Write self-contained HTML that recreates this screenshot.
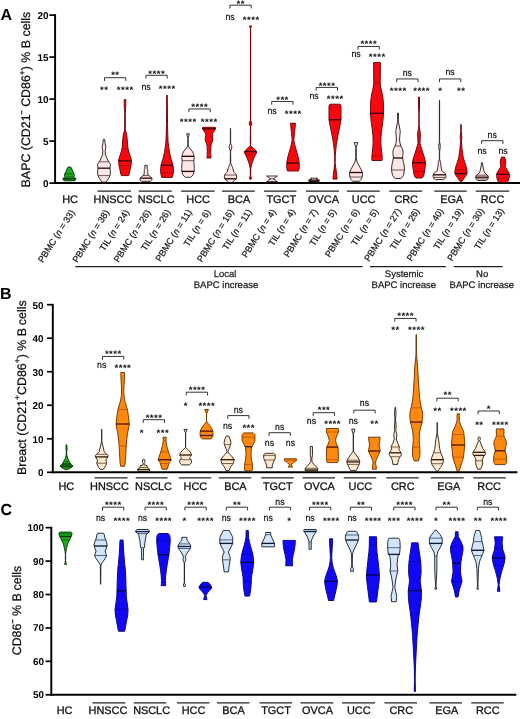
<!DOCTYPE html>
<html lang="en">
<head>
<meta charset="utf-8">
<title>Figure</title>
<style>
html,body{margin:0;padding:0;background:#ffffff;}
body{width:520px;height:719px;overflow:hidden;}
svg{display:block;font-family:"Liberation Sans",Arial,sans-serif;text-rendering:geometricPrecision;}
</style>
</head>
<body>
<svg width="520" height="719" viewBox="0 0 520 719">
<rect x="0" y="0" width="520" height="719" fill="#ffffff"/>
<text x="0.40" y="20.20" font-size="16.00" text-anchor="start" font-weight="bold" fill="#000" >A</text>
<text transform="translate(30.40 187.40) rotate(-90)" font-size="12.40" text-anchor="start" fill="#0a0a0a" stroke="#0a0a0a" stroke-width="0.22">BAPC (CD21<tspan font-size="7" font-weight="bold" dy="-6.1">−</tspan><tspan dy="6.1"> CD86</tspan><tspan font-size="8.5" dy="-5.7">+</tspan><tspan dy="5.7">) % B cells</tspan></text>
<path d="M70.73 167.00 L71.33 168.00 L72.93 171.50 L73.83 173.50 L74.33 175.00 L73.83 176.70 L74.43 177.50 L75.83 178.50 L75.62 179.80 L74.18 180.80 L64.62 180.80 L63.18 179.80 L62.98 178.50 L64.38 177.50 L64.98 176.70 L64.48 175.00 L64.98 173.50 L65.88 171.50 L67.48 168.00 L68.08 167.00Z" fill="#22aa22" stroke="#073d07" stroke-width="0.95" stroke-linejoin="round"/>
<line x1="64.70" y1="173.80" x2="74.10" y2="173.80" stroke="#0a5c0a" stroke-width="0.80"/>
<line x1="64.58" y1="177.00" x2="74.23" y2="177.00" stroke="#0a5c0a" stroke-width="0.80"/>
<line x1="62.83" y1="178.70" x2="75.97" y2="178.70" stroke="#053005" stroke-width="1.35"/>
<line x1="63.29" y1="180.00" x2="75.51" y2="180.00" stroke="#0a5c0a" stroke-width="0.80"/>
<path d="M104.78 139.30 L105.03 143.00 L105.88 147.00 L105.08 151.40 L105.42 154.00 L106.12 156.60 L107.28 159.00 L108.28 161.00 L109.53 162.80 L110.42 164.40 L110.22 166.50 L110.03 168.70 L110.28 171.00 L110.42 173.00 L109.92 175.50 L109.12 177.40 L107.53 180.00 L106.03 182.20 L101.97 182.20 L100.47 180.00 L98.88 177.40 L98.08 175.50 L97.58 173.00 L97.72 171.00 L97.97 168.70 L97.78 166.50 L97.58 164.40 L98.47 162.80 L99.72 161.00 L100.72 159.00 L101.88 156.60 L102.58 154.00 L102.92 151.40 L102.12 147.00 L102.97 143.00 L103.22 139.30Z" fill="#fce6e6" stroke="#332626" stroke-width="0.95" stroke-linejoin="round"/>
<line x1="98.99" y1="161.80" x2="109.01" y2="161.80" stroke="#4c3030" stroke-width="0.80"/>
<line x1="97.75" y1="168.20" x2="110.25" y2="168.20" stroke="#2a0e0e" stroke-width="1.35"/>
<line x1="97.94" y1="175.60" x2="110.06" y2="175.60" stroke="#4c3030" stroke-width="0.80"/>
<path d="M125.83 99.50 L125.72 107.30 L125.28 112.50 L125.33 129.80 L126.78 135.00 L127.33 141.00 L127.72 147.00 L128.53 151.00 L129.47 154.00 L130.53 157.00 L131.43 160.00 L131.32 162.50 L131.03 165.30 L130.03 170.00 L129.03 174.50 L128.68 175.60 L121.33 175.60 L120.97 174.50 L119.97 170.00 L118.97 165.30 L118.67 162.50 L118.58 160.00 L119.47 157.00 L120.53 154.00 L121.47 151.00 L122.28 147.00 L122.67 141.00 L123.22 135.00 L124.67 129.80 L124.72 112.50 L124.28 107.30 L124.17 99.50Z" fill="#f8080e" stroke="#6a0408" stroke-width="0.95" stroke-linejoin="round"/>
<line x1="121.74" y1="148.80" x2="128.26" y2="148.80" stroke="#a80408" stroke-width="0.80"/>
<line x1="118.44" y1="161.00" x2="131.56" y2="161.00" stroke="#3e0000" stroke-width="1.35"/>
<line x1="118.86" y1="165.60" x2="131.14" y2="165.60" stroke="#a80408" stroke-width="0.80"/>
<path d="M147.18 165.30 L147.18 168.70 L147.68 169.50 L147.68 171.30 L148.03 175.10 L150.28 176.50 L151.28 177.60 L152.03 178.60 L151.93 180.00 L150.53 181.30 L141.47 181.30 L140.07 180.00 L139.97 178.60 L140.72 177.60 L141.72 176.50 L143.97 175.10 L144.32 171.30 L144.32 169.50 L144.82 168.70 L144.82 165.30Z" fill="#fce6e6" stroke="#332626" stroke-width="0.95" stroke-linejoin="round"/>
<line x1="143.00" y1="175.60" x2="149.00" y2="175.60" stroke="#4c3030" stroke-width="0.80"/>
<line x1="140.10" y1="178.20" x2="151.90" y2="178.20" stroke="#2a0e0e" stroke-width="1.35"/>
<path d="M167.28 95.20 L167.53 124.60 L167.78 134.00 L168.07 141.90 L168.72 147.00 L169.53 152.30 L170.32 156.00 L171.18 159.20 L172.03 162.00 L172.93 165.30 L173.28 168.00 L173.43 171.30 L173.03 174.50 L172.22 177.40 L161.78 177.40 L160.97 174.50 L160.57 171.30 L160.72 168.00 L161.07 165.30 L161.97 162.00 L162.82 159.20 L163.68 156.00 L164.47 152.30 L165.28 147.00 L165.93 141.90 L166.22 134.00 L166.47 124.60 L166.72 95.20Z" fill="#f8080e" stroke="#6a0408" stroke-width="0.95" stroke-linejoin="round"/>
<line x1="160.90" y1="165.30" x2="173.10" y2="165.30" stroke="#3e0000" stroke-width="1.35"/>
<line x1="160.58" y1="172.70" x2="173.42" y2="172.70" stroke="#a80408" stroke-width="0.80"/>
<path d="M189.43 133.80 L188.72 136.00 L188.12 138.20 L188.22 146.00 L189.53 148.00 L191.28 150.00 L192.72 152.00 L193.68 154.50 L194.18 157.20 L193.82 161.50 L194.12 165.00 L194.32 168.40 L194.03 172.00 L193.28 174.50 L192.03 176.30 L190.53 177.30 L185.47 177.30 L183.97 176.30 L182.72 174.50 L181.97 172.00 L181.68 168.40 L181.88 165.00 L182.18 161.50 L181.82 157.20 L182.32 154.50 L183.28 152.00 L184.72 150.00 L186.47 148.00 L187.78 146.00 L187.88 138.20 L187.28 136.00 L186.57 133.80Z" fill="#fce6e6" stroke="#332626" stroke-width="0.95" stroke-linejoin="round"/>
<line x1="181.82" y1="156.30" x2="194.18" y2="156.30" stroke="#2a0e0e" stroke-width="1.35"/>
<line x1="181.93" y1="160.70" x2="194.07" y2="160.70" stroke="#4c3030" stroke-width="0.80"/>
<line x1="181.75" y1="171.40" x2="194.25" y2="171.40" stroke="#2a0e0e" stroke-width="1.35"/>
<path d="M215.32 127.30 L215.62 128.30 L215.12 129.50 L214.03 131.00 L212.82 133.00 L212.18 134.70 L212.53 137.00 L212.82 139.00 L212.53 141.00 L211.53 143.50 L210.88 146.00 L210.72 152.00 L210.82 156.00 L211.12 158.00 L206.88 158.00 L207.18 156.00 L207.28 152.00 L207.12 146.00 L206.47 143.50 L205.47 141.00 L205.18 139.00 L205.47 137.00 L205.82 134.70 L205.18 133.00 L203.97 131.00 L202.88 129.50 L202.38 128.30 L202.68 127.30Z" fill="#f8080e" stroke="#6a0408" stroke-width="0.95" stroke-linejoin="round"/>
<line x1="202.41" y1="128.80" x2="215.59" y2="128.80" stroke="#3e0000" stroke-width="1.35"/>
<path d="M230.62 128.30 L230.62 143.40 L231.43 145.20 L231.93 147.00 L231.43 149.00 L230.62 151.00 L230.72 163.30 L231.62 165.50 L232.62 167.60 L233.28 170.00 L233.78 172.00 L235.03 173.30 L236.28 174.50 L236.68 177.00 L236.28 178.80 L234.28 180.50 L232.03 182.60 L228.97 182.60 L226.72 180.50 L224.72 178.80 L224.32 177.00 L224.72 174.50 L225.97 173.30 L227.22 172.00 L227.72 170.00 L228.38 167.60 L229.38 165.50 L230.28 163.30 L230.38 151.00 L229.57 149.00 L229.07 147.00 L229.57 145.20 L230.38 143.40 L230.38 128.30Z" fill="#fce6e6" stroke="#332626" stroke-width="0.95" stroke-linejoin="round"/>
<line x1="224.47" y1="175.00" x2="236.53" y2="175.00" stroke="#4c3030" stroke-width="0.80"/>
<line x1="224.55" y1="178.80" x2="236.45" y2="178.80" stroke="#2a0e0e" stroke-width="1.35"/>
<path d="M251.53 26.00 L250.57 28.50 L250.57 120.50 L251.32 122.00 L251.78 123.50 L251.32 125.00 L250.57 126.50 L250.68 146.00 L252.03 147.00 L253.72 148.50 L255.28 150.00 L256.68 152.00 L256.32 153.30 L255.53 154.60 L254.32 157.00 L253.22 159.80 L252.28 162.50 L251.53 165.00 L250.78 168.40 L250.62 175.40 L251.03 177.00 L251.53 178.80 L251.03 179.20 L249.97 179.20 L249.47 178.80 L249.97 177.00 L250.38 175.40 L250.22 168.40 L249.47 165.00 L248.72 162.50 L247.78 159.80 L246.68 157.00 L245.47 154.60 L244.68 153.30 L244.32 152.00 L245.72 150.00 L247.28 148.50 L248.97 147.00 L250.32 146.00 L250.43 126.50 L249.68 125.00 L249.22 123.50 L249.68 122.00 L250.43 120.50 L250.43 28.50 L249.47 26.00Z" fill="#f8080e" stroke="#6a0408" stroke-width="0.95" stroke-linejoin="round"/>
<line x1="244.43" y1="151.60" x2="256.57" y2="151.60" stroke="#3e0000" stroke-width="1.35"/>
<line x1="245.30" y1="154.60" x2="255.70" y2="154.60" stroke="#a80408" stroke-width="0.80"/>
<path d="M277.43 176.00 L275.77 177.30 L273.52 178.80 L275.77 180.30 L277.52 181.70 L266.48 181.70 L268.23 180.30 L270.48 178.80 L268.23 177.30 L266.57 176.00Z" fill="#fce6e6" stroke="#332626" stroke-width="0.95" stroke-linejoin="round"/>
<line x1="270.30" y1="178.80" x2="273.70" y2="178.80" stroke="#4c3030" stroke-width="0.80"/>
<path d="M295.48 123.20 L294.68 131.50 L294.18 136.00 L293.82 140.20 L294.73 144.50 L295.82 148.80 L297.02 153.00 L298.02 156.60 L298.62 159.00 L299.07 161.80 L299.27 166.10 L299.02 169.50 L298.52 171.00 L287.48 171.00 L286.98 169.50 L286.73 166.10 L286.93 161.80 L287.38 159.00 L287.98 156.60 L288.98 153.00 L290.18 148.80 L291.27 144.50 L292.18 140.20 L291.82 136.00 L291.32 131.50 L290.52 123.20Z" fill="#f8080e" stroke="#6a0408" stroke-width="0.95" stroke-linejoin="round"/>
<line x1="286.69" y1="163.00" x2="299.31" y2="163.00" stroke="#3e0000" stroke-width="1.35"/>
<path d="M317.52 178.20 L316.02 179.20 L319.12 180.00 L319.12 181.60 L318.02 182.60 L309.98 182.60 L308.88 181.60 L308.88 180.00 L311.98 179.20 L310.48 178.20Z" fill="#fce6e6" stroke="#332626" stroke-width="0.95" stroke-linejoin="round"/>
<line x1="308.70" y1="180.20" x2="319.30" y2="180.20" stroke="#2a0e0e" stroke-width="1.35"/>
<line x1="308.81" y1="181.70" x2="319.19" y2="181.70" stroke="#2a0e0e" stroke-width="1.35"/>
<path d="M340.12 104.20 L340.82 105.20 L341.02 107.30 L341.02 119.40 L340.12 124.60 L339.02 130.00 L337.98 135.00 L337.12 140.00 L336.27 145.40 L335.73 150.50 L335.27 155.70 L335.12 162.70 L335.68 167.00 L336.27 171.30 L336.73 175.50 L337.02 179.10 L332.98 179.10 L333.27 175.50 L333.73 171.30 L334.32 167.00 L334.88 162.70 L334.73 155.70 L334.27 150.50 L333.73 145.40 L332.88 140.00 L332.02 135.00 L330.98 130.00 L329.88 124.60 L328.98 119.40 L328.98 107.30 L329.18 105.20 L329.88 104.20Z" fill="#f8080e" stroke="#6a0408" stroke-width="0.95" stroke-linejoin="round"/>
<line x1="328.80" y1="107.30" x2="341.20" y2="107.30" stroke="#a80408" stroke-width="0.80"/>
<line x1="328.87" y1="119.80" x2="341.13" y2="119.80" stroke="#3e0000" stroke-width="1.35"/>
<path d="M357.88 142.60 L357.02 145.00 L356.27 147.50 L356.23 158.00 L356.82 161.00 L358.02 164.00 L359.77 167.00 L361.43 170.00 L362.32 172.50 L362.32 176.00 L361.52 178.50 L360.52 180.20 L359.27 181.30 L352.73 181.30 L351.48 180.20 L350.48 178.50 L349.68 176.00 L349.68 172.50 L350.57 170.00 L352.23 167.00 L353.98 164.00 L355.18 161.00 L355.77 158.00 L355.73 147.50 L354.98 145.00 L354.12 142.60Z" fill="#fce6e6" stroke="#332626" stroke-width="0.95" stroke-linejoin="round"/>
<line x1="349.50" y1="172.50" x2="362.50" y2="172.50" stroke="#2a0e0e" stroke-width="1.35"/>
<line x1="349.82" y1="177.00" x2="362.18" y2="177.00" stroke="#4c3030" stroke-width="0.80"/>
<path d="M380.43 62.50 L380.32 75.00 L380.18 82.90 L380.93 88.00 L382.12 93.30 L382.82 97.50 L383.38 101.90 L383.52 107.00 L383.52 113.10 L383.18 118.00 L382.68 122.70 L381.93 128.00 L381.27 133.00 L380.98 138.00 L380.88 143.40 L381.32 149.00 L381.93 154.00 L382.23 157.50 L382.02 160.50 L371.98 160.50 L371.77 157.50 L372.07 154.00 L372.68 149.00 L373.12 143.40 L373.02 138.00 L372.73 133.00 L372.07 128.00 L371.32 122.70 L370.82 118.00 L370.48 113.10 L370.48 107.00 L370.62 101.90 L371.18 97.50 L371.88 93.30 L373.07 88.00 L373.82 82.90 L373.68 75.00 L373.57 62.50Z" fill="#f8080e" stroke="#6a0408" stroke-width="0.95" stroke-linejoin="round"/>
<line x1="373.65" y1="82.90" x2="380.35" y2="82.90" stroke="#a80408" stroke-width="0.80"/>
<line x1="370.31" y1="113.30" x2="383.69" y2="113.30" stroke="#3e0000" stroke-width="1.35"/>
<line x1="371.73" y1="156.00" x2="382.27" y2="156.00" stroke="#a80408" stroke-width="0.80"/>
<path d="M398.52 113.10 L398.27 121.00 L399.23 126.00 L400.27 131.30 L399.82 136.00 L399.52 140.00 L400.02 143.00 L400.73 146.00 L402.27 148.50 L403.02 151.00 L403.02 154.00 L402.62 157.00 L402.93 160.00 L403.93 164.00 L404.43 168.00 L404.23 172.00 L403.32 175.50 L402.02 177.50 L400.77 178.50 L395.23 178.50 L393.98 177.50 L392.68 175.50 L391.77 172.00 L391.57 168.00 L392.07 164.00 L393.07 160.00 L393.38 157.00 L392.98 154.00 L392.98 151.00 L393.73 148.50 L395.27 146.00 L395.98 143.00 L396.48 140.00 L396.18 136.00 L395.73 131.30 L396.77 126.00 L397.73 121.00 L397.48 113.10Z" fill="#fce6e6" stroke="#332626" stroke-width="0.95" stroke-linejoin="round"/>
<line x1="395.10" y1="146.00" x2="400.90" y2="146.00" stroke="#4c3030" stroke-width="0.80"/>
<line x1="393.10" y1="158.00" x2="402.90" y2="158.00" stroke="#2a0e0e" stroke-width="1.35"/>
<line x1="391.50" y1="170.00" x2="404.50" y2="170.00" stroke="#4c3030" stroke-width="0.80"/>
<path d="M419.52 97.00 L419.52 108.80 L419.12 112.00 L419.12 126.00 L419.93 130.50 L420.43 134.80 L420.12 139.00 L420.02 143.40 L421.02 147.00 L422.23 151.00 L423.52 155.00 L424.93 159.00 L425.52 163.00 L425.02 168.00 L424.27 173.00 L423.52 176.00 L422.02 178.00 L415.98 178.00 L414.48 176.00 L413.73 173.00 L412.98 168.00 L412.48 163.00 L413.07 159.00 L414.48 155.00 L415.77 151.00 L416.98 147.00 L417.98 143.40 L417.88 139.00 L417.57 134.80 L418.07 130.50 L418.88 126.00 L418.88 112.00 L418.48 108.80 L418.48 97.00Z" fill="#f8080e" stroke="#6a0408" stroke-width="0.95" stroke-linejoin="round"/>
<line x1="415.28" y1="152.00" x2="422.72" y2="152.00" stroke="#a80408" stroke-width="0.80"/>
<line x1="412.35" y1="162.70" x2="425.65" y2="162.70" stroke="#3e0000" stroke-width="1.35"/>
<line x1="413.30" y1="171.30" x2="424.70" y2="171.30" stroke="#a80408" stroke-width="0.80"/>
<path d="M439.62 100.40 L439.62 141.90 L440.02 144.00 L440.32 146.20 L440.02 148.80 L439.62 151.40 L439.68 159.20 L440.62 162.70 L441.12 167.00 L441.62 170.00 L442.27 171.30 L443.77 172.30 L445.27 173.30 L445.82 174.50 L445.93 176.50 L445.27 178.30 L443.52 179.60 L435.48 179.60 L433.73 178.30 L433.07 176.50 L433.18 174.50 L433.73 173.30 L435.23 172.30 L436.73 171.30 L437.38 170.00 L437.88 167.00 L438.38 162.70 L439.32 159.20 L439.38 151.40 L438.98 148.80 L438.68 146.20 L438.98 144.00 L439.38 141.90 L439.38 100.40Z" fill="#fce6e6" stroke="#332626" stroke-width="0.95" stroke-linejoin="round"/>
<line x1="432.99" y1="174.80" x2="446.01" y2="174.80" stroke="#2a0e0e" stroke-width="1.35"/>
<line x1="433.23" y1="177.40" x2="445.77" y2="177.40" stroke="#4c3030" stroke-width="0.80"/>
<path d="M461.27 124.60 L461.27 131.50 L461.82 136.70 L461.52 141.90 L462.02 148.80 L462.62 153.00 L463.27 157.50 L464.27 161.00 L465.48 164.40 L466.23 167.00 L466.82 169.60 L467.18 173.00 L466.12 175.20 L464.68 177.40 L463.23 179.50 L462.02 181.30 L459.98 181.30 L458.77 179.50 L457.32 177.40 L455.88 175.20 L454.82 173.00 L455.18 169.60 L455.77 167.00 L456.52 164.40 L457.73 161.00 L458.73 157.50 L459.38 153.00 L459.98 148.80 L460.48 141.90 L460.18 136.70 L460.73 131.50 L460.73 124.60Z" fill="#f8080e" stroke="#6a0408" stroke-width="0.95" stroke-linejoin="round"/>
<line x1="454.96" y1="170.00" x2="467.04" y2="170.00" stroke="#a80408" stroke-width="0.80"/>
<line x1="454.94" y1="173.60" x2="467.06" y2="173.60" stroke="#3e0000" stroke-width="1.35"/>
<path d="M482.52 162.70 L482.82 166.00 L483.43 169.00 L484.12 171.50 L484.77 173.00 L486.02 174.00 L487.43 175.00 L488.12 176.20 L488.27 177.90 L487.52 179.40 L486.02 180.50 L477.98 180.50 L476.48 179.40 L475.73 177.90 L475.88 176.20 L476.57 175.00 L477.98 174.00 L479.23 173.00 L479.88 171.50 L480.57 169.00 L481.18 166.00 L481.48 162.70Z" fill="#fce6e6" stroke="#332626" stroke-width="0.95" stroke-linejoin="round"/>
<line x1="476.28" y1="175.20" x2="487.72" y2="175.20" stroke="#4c3030" stroke-width="0.80"/>
<line x1="475.61" y1="177.20" x2="488.39" y2="177.20" stroke="#2a0e0e" stroke-width="1.35"/>
<line x1="476.05" y1="178.90" x2="487.95" y2="178.90" stroke="#4c3030" stroke-width="0.80"/>
<path d="M504.43 157.10 L505.27 159.20 L505.82 162.70 L505.12 166.10 L505.93 168.00 L507.02 169.60 L508.12 171.30 L509.02 173.00 L509.43 176.50 L508.52 180.00 L507.77 181.50 L506.52 182.60 L499.48 182.60 L498.23 181.50 L497.48 180.00 L496.57 176.50 L496.98 173.00 L497.88 171.30 L498.98 169.60 L500.07 168.00 L500.88 166.10 L500.18 162.70 L500.73 159.20 L501.57 157.10Z" fill="#f8080e" stroke="#6a0408" stroke-width="0.95" stroke-linejoin="round"/>
<line x1="496.65" y1="174.30" x2="509.35" y2="174.30" stroke="#3e0000" stroke-width="1.35"/>
<line x1="496.84" y1="178.20" x2="509.16" y2="178.20" stroke="#a80408" stroke-width="0.80"/>
<line x1="55.10" y1="14.25" x2="55.10" y2="183.90" stroke="#000" stroke-width="1.95"/>
<line x1="54.10" y1="182.95" x2="520.00" y2="182.95" stroke="#000" stroke-width="1.90"/>
<line x1="49.35" y1="15.10" x2="55.10" y2="15.10" stroke="#000" stroke-width="1.70"/>
<text transform="translate(48.50 18.95) scale(0.5)" font-size="19.8" text-anchor="end" font-weight="bold" fill="#000">20</text>
<line x1="49.35" y1="57.10" x2="55.10" y2="57.10" stroke="#000" stroke-width="1.70"/>
<text transform="translate(48.50 60.95) scale(0.5)" font-size="19.8" text-anchor="end" font-weight="bold" fill="#000">15</text>
<line x1="49.35" y1="99.10" x2="55.10" y2="99.10" stroke="#000" stroke-width="1.70"/>
<text transform="translate(48.50 102.95) scale(0.5)" font-size="19.8" text-anchor="end" font-weight="bold" fill="#000">10</text>
<line x1="49.35" y1="141.10" x2="55.10" y2="141.10" stroke="#000" stroke-width="1.70"/>
<text transform="translate(48.50 144.95) scale(0.5)" font-size="19.8" text-anchor="end" font-weight="bold" fill="#000">5</text>
<line x1="49.35" y1="183.10" x2="55.10" y2="183.10" stroke="#000" stroke-width="1.70"/>
<text transform="translate(48.50 186.95) scale(0.5)" font-size="19.8" text-anchor="end" font-weight="bold" fill="#000">0</text>
<text x="70.00" y="202.70" font-size="10.90" text-anchor="middle" font-weight="normal" fill="#111" stroke="#111" stroke-width="0.3">HC</text>
<line x1="97.50" y1="191.10" x2="131.00" y2="191.10" stroke="#222" stroke-width="1.30"/>
<text x="112.90" y="202.70" font-size="10.90" text-anchor="middle" font-weight="normal" fill="#111" stroke="#111" stroke-width="0.3">HNSCC</text>
<line x1="138.75" y1="191.10" x2="171.75" y2="191.10" stroke="#222" stroke-width="1.30"/>
<text x="156.10" y="202.70" font-size="10.90" text-anchor="middle" font-weight="normal" fill="#111" stroke="#111" stroke-width="0.3">NSCLC</text>
<line x1="181.20" y1="191.10" x2="214.60" y2="191.10" stroke="#222" stroke-width="1.30"/>
<text x="198.10" y="202.70" font-size="10.90" text-anchor="middle" font-weight="normal" fill="#111" stroke="#111" stroke-width="0.3">HCC</text>
<line x1="221.90" y1="191.10" x2="254.80" y2="191.10" stroke="#222" stroke-width="1.30"/>
<text x="239.00" y="202.70" font-size="10.90" text-anchor="middle" font-weight="normal" fill="#111" stroke="#111" stroke-width="0.3">BCA</text>
<line x1="264.00" y1="191.10" x2="296.50" y2="191.10" stroke="#222" stroke-width="1.30"/>
<text x="281.25" y="202.70" font-size="10.90" text-anchor="middle" font-weight="normal" fill="#111" stroke="#111" stroke-width="0.3">TGCT</text>
<line x1="306.00" y1="191.10" x2="339.00" y2="191.10" stroke="#222" stroke-width="1.30"/>
<text x="323.50" y="202.70" font-size="10.90" text-anchor="middle" font-weight="normal" fill="#111" stroke="#111" stroke-width="0.3">OVCA</text>
<line x1="346.90" y1="191.10" x2="379.80" y2="191.10" stroke="#222" stroke-width="1.30"/>
<text x="363.60" y="202.70" font-size="10.90" text-anchor="middle" font-weight="normal" fill="#111" stroke="#111" stroke-width="0.3">UCC</text>
<line x1="389.30" y1="191.10" x2="422.20" y2="191.10" stroke="#222" stroke-width="1.30"/>
<text x="406.20" y="202.70" font-size="10.90" text-anchor="middle" font-weight="normal" fill="#111" stroke="#111" stroke-width="0.3">CRC</text>
<line x1="434.30" y1="191.10" x2="466.70" y2="191.10" stroke="#222" stroke-width="1.30"/>
<text x="451.80" y="202.70" font-size="10.90" text-anchor="middle" font-weight="normal" fill="#111" stroke="#111" stroke-width="0.3">EGA</text>
<line x1="475.80" y1="191.10" x2="509.20" y2="191.10" stroke="#222" stroke-width="1.30"/>
<text x="492.50" y="202.70" font-size="10.90" text-anchor="middle" font-weight="normal" fill="#111" stroke="#111" stroke-width="0.3">RCC</text>
<text x="104.22" y="92.90" font-size="9.60" text-anchor="middle" font-weight="bold" fill="#111" letter-spacing="0.45">**</text>
<text x="125.22" y="92.90" font-size="9.60" text-anchor="middle" font-weight="bold" fill="#111" letter-spacing="0.45">****</text>
<path d="M104.50 80.90 V77.70 H125.80 V80.90" fill="none" stroke="#333" stroke-width="1"/>
<text x="115.32" y="78.10" font-size="9.60" text-anchor="middle" font-weight="bold" fill="#111" letter-spacing="0.45">**</text>
<text x="146.00" y="89.60" font-size="9.60" text-anchor="middle" font-weight="normal" fill="#111" textLength="9.2" lengthAdjust="spacingAndGlyphs" stroke="#111" stroke-width="0.2">ns</text>
<text x="167.22" y="92.30" font-size="9.60" text-anchor="middle" font-weight="bold" fill="#111" letter-spacing="0.45">****</text>
<path d="M145.90 78.50 V75.30 H167.20 V78.50" fill="none" stroke="#333" stroke-width="1"/>
<text x="156.72" y="76.60" font-size="9.60" text-anchor="middle" font-weight="bold" fill="#111" letter-spacing="0.45">****</text>
<text x="188.22" y="124.90" font-size="9.60" text-anchor="middle" font-weight="bold" fill="#111" letter-spacing="0.45">****</text>
<text x="209.22" y="124.90" font-size="9.60" text-anchor="middle" font-weight="bold" fill="#111" letter-spacing="0.45">****</text>
<path d="M188.90 112.15 V108.95 H210.20 V112.15" fill="none" stroke="#333" stroke-width="1"/>
<text x="199.72" y="110.35" font-size="9.60" text-anchor="middle" font-weight="bold" fill="#111" letter-spacing="0.45">****</text>
<text x="230.00" y="20.20" font-size="9.60" text-anchor="middle" font-weight="normal" fill="#111" textLength="9.2" lengthAdjust="spacingAndGlyphs" stroke="#111" stroke-width="0.2">ns</text>
<text x="251.22" y="22.90" font-size="9.60" text-anchor="middle" font-weight="bold" fill="#111" letter-spacing="0.45">****</text>
<path d="M229.90 8.40 V5.20 H251.20 V8.40" fill="none" stroke="#333" stroke-width="1"/>
<text x="240.72" y="6.60" font-size="9.60" text-anchor="middle" font-weight="bold" fill="#111" letter-spacing="0.45">**</text>
<text x="272.00" y="114.20" font-size="9.60" text-anchor="middle" font-weight="normal" fill="#111" textLength="9.2" lengthAdjust="spacingAndGlyphs" stroke="#111" stroke-width="0.2">ns</text>
<text x="293.22" y="116.90" font-size="9.60" text-anchor="middle" font-weight="bold" fill="#111" letter-spacing="0.45">****</text>
<path d="M271.70 104.65 V101.45 H293.00 V104.65" fill="none" stroke="#333" stroke-width="1"/>
<text x="282.52" y="102.60" font-size="9.60" text-anchor="middle" font-weight="bold" fill="#111" letter-spacing="0.45">***</text>
<text x="314.00" y="99.10" font-size="9.60" text-anchor="middle" font-weight="normal" fill="#111" textLength="9.2" lengthAdjust="spacingAndGlyphs" stroke="#111" stroke-width="0.2">ns</text>
<text x="335.22" y="101.80" font-size="9.60" text-anchor="middle" font-weight="bold" fill="#111" letter-spacing="0.45">****</text>
<path d="M316.20 90.60 V87.40 H337.50 V90.60" fill="none" stroke="#333" stroke-width="1"/>
<text x="327.02" y="88.50" font-size="9.60" text-anchor="middle" font-weight="bold" fill="#111" letter-spacing="0.45">****</text>
<text x="356.00" y="57.40" font-size="9.60" text-anchor="middle" font-weight="normal" fill="#111" textLength="9.2" lengthAdjust="spacingAndGlyphs" stroke="#111" stroke-width="0.2">ns</text>
<text x="377.22" y="60.10" font-size="9.60" text-anchor="middle" font-weight="bold" fill="#111" letter-spacing="0.45">****</text>
<path d="M358.00 49.65 V46.45 H379.30 V49.65" fill="none" stroke="#333" stroke-width="1"/>
<text x="368.82" y="47.10" font-size="9.60" text-anchor="middle" font-weight="bold" fill="#111" letter-spacing="0.45">****</text>
<text x="398.22" y="93.65" font-size="9.60" text-anchor="middle" font-weight="bold" fill="#111" letter-spacing="0.45">****</text>
<text x="421.62" y="93.65" font-size="9.60" text-anchor="middle" font-weight="bold" fill="#111" letter-spacing="0.45">****</text>
<path d="M396.70 82.15 V78.95 H418.00 V82.15" fill="none" stroke="#333" stroke-width="1"/>
<text x="407.30" y="76.25" font-size="9.60" text-anchor="middle" font-weight="normal" fill="#111" textLength="9.2" lengthAdjust="spacingAndGlyphs" stroke="#111" stroke-width="0.2">ns</text>
<text x="440.22" y="93.65" font-size="9.60" text-anchor="middle" font-weight="bold" fill="#111" letter-spacing="0.45">*</text>
<text x="461.22" y="93.65" font-size="9.60" text-anchor="middle" font-weight="bold" fill="#111" letter-spacing="0.45">**</text>
<path d="M439.50 82.15 V78.95 H460.80 V82.15" fill="none" stroke="#333" stroke-width="1"/>
<text x="450.10" y="75.00" font-size="9.60" text-anchor="middle" font-weight="normal" fill="#111" textLength="9.2" lengthAdjust="spacingAndGlyphs" stroke="#111" stroke-width="0.2">ns</text>
<text x="482.00" y="154.45" font-size="9.60" text-anchor="middle" font-weight="normal" fill="#111" textLength="9.2" lengthAdjust="spacingAndGlyphs" stroke="#111" stroke-width="0.2">ns</text>
<text x="503.00" y="154.45" font-size="9.60" text-anchor="middle" font-weight="normal" fill="#111" textLength="9.2" lengthAdjust="spacingAndGlyphs" stroke="#111" stroke-width="0.2">ns</text>
<path d="M481.60 143.90 V140.70 H502.90 V143.90" fill="none" stroke="#333" stroke-width="1"/>
<text x="492.20" y="138.00" font-size="9.60" text-anchor="middle" font-weight="normal" fill="#111" textLength="9.2" lengthAdjust="spacingAndGlyphs" stroke="#111" stroke-width="0.2">ns</text>
<text x="0.00" y="299.20" font-size="16.00" text-anchor="start" font-weight="bold" fill="#000" >B</text>
<text transform="translate(26.00 475.00) rotate(-90)" font-size="12.40" text-anchor="start" fill="#0a0a0a" stroke="#0a0a0a" stroke-width="0.22">Breact (CD21<tspan font-size="8.5" dy="-5.7">+</tspan><tspan dy="5.7">CD86</tspan><tspan font-size="8.5" dy="-5.7">+</tspan><tspan dy="5.7">) % B</tspan><tspan dx="-0.6"> cells</tspan></text>
<path d="M66.67 444.60 L66.97 446.00 L66.97 450.00 L66.67 452.00 L66.78 455.00 L67.53 458.00 L69.12 461.20 L70.62 463.80 L72.78 466.20 L71.28 467.50 L69.53 468.60 L67.78 469.60 L65.22 469.60 L63.48 468.60 L61.73 467.50 L60.23 466.20 L62.38 463.80 L63.88 461.20 L65.47 458.00 L66.22 455.00 L66.33 452.00 L66.03 450.00 L66.03 446.00 L66.33 444.60Z" fill="#22aa22" stroke="#073d07" stroke-width="0.95" stroke-linejoin="round"/>
<line x1="63.53" y1="461.50" x2="69.47" y2="461.50" stroke="#0a5c0a" stroke-width="0.80"/>
<line x1="62.02" y1="464.00" x2="70.98" y2="464.00" stroke="#053005" stroke-width="1.35"/>
<line x1="60.05" y1="466.20" x2="72.95" y2="466.20" stroke="#053005" stroke-width="1.35"/>
<line x1="62.03" y1="467.80" x2="70.97" y2="467.80" stroke="#0a5c0a" stroke-width="0.80"/>
<path d="M101.73 429.20 L101.73 440.70 L102.62 444.90 L103.67 449.00 L104.08 451.70 L105.23 452.80 L106.42 453.80 L108.28 455.80 L107.33 457.90 L105.92 460.00 L106.23 461.50 L106.58 463.20 L105.67 465.80 L104.48 467.80 L103.23 469.40 L100.17 469.40 L98.92 467.80 L97.73 465.80 L96.83 463.20 L97.17 461.50 L97.48 460.00 L96.08 457.90 L95.12 455.80 L96.98 453.80 L98.17 452.80 L99.33 451.70 L99.73 449.00 L100.78 444.90 L101.67 440.70 L101.67 429.20Z" fill="#fde9cf" stroke="#30261c" stroke-width="0.95" stroke-linejoin="round"/>
<line x1="96.34" y1="454.30" x2="107.06" y2="454.30" stroke="#5a4428" stroke-width="0.80"/>
<line x1="95.45" y1="456.90" x2="107.95" y2="456.90" stroke="#30200a" stroke-width="1.35"/>
<line x1="96.65" y1="463.20" x2="106.75" y2="463.20" stroke="#5a4428" stroke-width="0.80"/>
<path d="M124.55 372.50 L124.30 380.00 L123.84 388.00 L123.84 394.00 L124.30 398.00 L125.00 401.50 L126.00 405.00 L127.39 409.40 L128.09 414.00 L128.80 419.00 L129.25 424.00 L128.40 429.00 L127.39 434.40 L126.70 440.00 L126.20 445.90 L125.89 452.00 L125.59 458.50 L125.20 463.00 L124.55 466.30 L120.80 466.30 L120.14 463.00 L119.75 458.50 L119.45 452.00 L119.14 445.90 L118.64 440.00 L117.95 434.40 L116.95 429.00 L116.09 424.00 L116.55 419.00 L117.25 414.00 L117.95 409.40 L119.34 405.00 L120.34 401.50 L121.05 398.00 L121.50 394.00 L121.50 388.00 L121.05 380.00 L120.80 372.50Z" fill="#ff890c" stroke="#6e3600" stroke-width="0.95" stroke-linejoin="round"/>
<line x1="117.77" y1="409.40" x2="127.57" y2="409.40" stroke="#b85000" stroke-width="0.80"/>
<line x1="115.92" y1="424.00" x2="129.42" y2="424.00" stroke="#541600" stroke-width="1.35"/>
<line x1="118.97" y1="445.90" x2="126.37" y2="445.90" stroke="#b85000" stroke-width="0.80"/>
<path d="M144.16 459.20 L144.81 460.00 L144.91 461.20 L144.81 462.40 L144.16 463.10 L144.16 464.90 L147.06 465.70 L147.16 467.50 L148.41 468.20 L149.46 468.90 L149.46 470.90 L148.16 471.60 L139.11 471.60 L137.81 470.90 L137.81 468.90 L138.86 468.20 L140.11 467.50 L140.21 465.70 L143.11 464.90 L143.11 463.10 L142.46 462.40 L142.36 461.20 L142.46 460.00 L143.11 459.20Z" fill="#fde9cf" stroke="#30261c" stroke-width="0.95" stroke-linejoin="round"/>
<line x1="139.94" y1="467.50" x2="147.34" y2="467.50" stroke="#5a4428" stroke-width="0.80"/>
<line x1="137.64" y1="469.60" x2="149.64" y2="469.60" stroke="#30200a" stroke-width="1.35"/>
<path d="M166.24 437.20 L165.84 440.10 L166.24 443.00 L166.74 445.80 L167.64 449.00 L168.49 451.90 L169.39 454.50 L170.19 457.10 L171.04 459.70 L170.74 461.00 L169.39 461.80 L168.99 463.10 L168.14 466.00 L167.64 468.00 L167.14 469.20 L162.09 469.20 L161.59 468.00 L161.09 466.00 L160.24 463.10 L159.84 461.80 L158.49 461.00 L158.19 459.70 L159.04 457.10 L159.84 454.50 L160.74 451.90 L161.59 449.00 L162.49 445.80 L162.99 443.00 L163.39 440.10 L162.99 437.20Z" fill="#ff890c" stroke="#6e3600" stroke-width="0.95" stroke-linejoin="round"/>
<line x1="163.15" y1="440.50" x2="166.07" y2="440.50" stroke="#b85000" stroke-width="0.80"/>
<line x1="160.56" y1="451.90" x2="168.66" y2="451.90" stroke="#b85000" stroke-width="0.80"/>
<line x1="158.01" y1="459.70" x2="171.21" y2="459.70" stroke="#541600" stroke-width="1.35"/>
<line x1="160.18" y1="463.50" x2="169.04" y2="463.50" stroke="#b85000" stroke-width="0.80"/>
<path d="M187.20 429.40 L185.61 432.90 L185.61 447.60 L187.10 449.00 L188.55 450.20 L190.10 452.00 L191.15 453.60 L191.35 455.40 L190.40 456.60 L189.45 457.60 L190.60 459.00 L191.60 460.60 L191.40 462.50 L190.50 464.00 L189.35 464.90 L181.80 464.90 L180.65 464.00 L179.75 462.50 L179.55 460.60 L180.55 459.00 L181.70 457.60 L180.75 456.60 L179.80 455.40 L180.00 453.60 L181.05 452.00 L182.60 450.20 L184.05 449.00 L185.55 447.60 L185.55 432.90 L183.95 429.40Z" fill="#fde9cf" stroke="#30261c" stroke-width="0.95" stroke-linejoin="round"/>
<line x1="179.67" y1="455.00" x2="191.49" y2="455.00" stroke="#30200a" stroke-width="1.35"/>
<line x1="179.94" y1="459.70" x2="191.22" y2="459.70" stroke="#5a4428" stroke-width="0.80"/>
<path d="M208.43 409.50 L206.58 413.80 L206.58 421.60 L207.58 423.00 L208.68 424.20 L210.08 426.00 L211.28 427.70 L212.18 429.50 L212.83 431.10 L213.08 434.60 L212.58 436.60 L211.83 438.00 L210.83 438.90 L202.28 438.90 L201.28 438.00 L200.53 436.60 L200.03 434.60 L200.28 431.10 L200.93 429.50 L201.83 427.70 L203.03 426.00 L204.43 424.20 L205.53 423.00 L206.52 421.60 L206.52 413.80 L204.68 409.50Z" fill="#ff890c" stroke="#6e3600" stroke-width="0.95" stroke-linejoin="round"/>
<line x1="200.10" y1="431.10" x2="213.00" y2="431.10" stroke="#541600" stroke-width="1.35"/>
<line x1="200.08" y1="435.50" x2="213.03" y2="435.50" stroke="#541600" stroke-width="1.35"/>
<path d="M228.79 436.00 L230.04 438.90 L230.94 442.40 L230.64 444.60 L229.89 446.70 L228.74 449.50 L227.79 451.90 L229.54 454.00 L231.79 456.20 L233.14 458.00 L234.14 459.70 L233.84 461.50 L233.34 463.10 L230.94 466.60 L229.79 468.80 L229.04 470.60 L225.99 470.60 L225.24 468.80 L224.09 466.60 L221.69 463.10 L221.19 461.50 L220.89 459.70 L221.89 458.00 L223.24 456.20 L225.49 454.00 L227.24 451.90 L226.29 449.50 L225.14 446.70 L224.39 444.60 L224.09 442.40 L224.99 438.90 L226.24 436.00Z" fill="#fde9cf" stroke="#30261c" stroke-width="0.95" stroke-linejoin="round"/>
<line x1="224.22" y1="444.60" x2="230.82" y2="444.60" stroke="#5a4428" stroke-width="0.80"/>
<line x1="220.72" y1="459.70" x2="234.32" y2="459.70" stroke="#30200a" stroke-width="1.35"/>
<line x1="221.79" y1="463.50" x2="233.25" y2="463.50" stroke="#5a4428" stroke-width="0.80"/>
<path d="M253.22 432.90 L254.92 434.60 L254.92 440.70 L253.22 444.10 L251.47 447.60 L250.97 453.60 L251.47 459.70 L252.37 464.00 L252.37 470.20 L251.77 470.90 L245.22 470.90 L244.62 470.20 L244.62 464.00 L245.52 459.70 L246.02 453.60 L245.52 447.60 L243.77 444.10 L242.06 440.70 L242.06 434.60 L243.77 432.90Z" fill="#ff890c" stroke="#6e3600" stroke-width="0.95" stroke-linejoin="round"/>
<line x1="241.89" y1="437.20" x2="255.09" y2="437.20" stroke="#b85000" stroke-width="0.80"/>
<line x1="244.89" y1="446.70" x2="252.09" y2="446.70" stroke="#541600" stroke-width="1.35"/>
<line x1="244.44" y1="464.40" x2="252.54" y2="464.40" stroke="#b85000" stroke-width="0.80"/>
<path d="M273.63 453.30 L274.78 454.20 L275.38 455.40 L275.03 458.80 L273.33 462.30 L272.28 465.70 L272.28 467.80 L266.63 467.80 L266.63 465.70 L265.58 462.30 L263.88 458.80 L263.53 455.40 L264.13 454.20 L265.28 453.30Z" fill="#fde9cf" stroke="#30261c" stroke-width="0.95" stroke-linejoin="round"/>
<line x1="263.36" y1="455.40" x2="275.56" y2="455.40" stroke="#5a4428" stroke-width="0.80"/>
<line x1="264.29" y1="460.00" x2="274.63" y2="460.00" stroke="#5a4428" stroke-width="0.80"/>
<path d="M296.36 458.80 L296.36 460.60 L293.41 462.60 L291.25 464.90 L291.95 466.00 L292.56 467.10 L288.31 467.10 L288.91 466.00 L289.61 464.90 L287.45 462.60 L284.50 460.60 L284.50 458.80Z" fill="#ff890c" stroke="#6e3600" stroke-width="0.95" stroke-linejoin="round"/>
<line x1="284.33" y1="460.20" x2="296.53" y2="460.20" stroke="#b85000" stroke-width="0.80"/>
<path d="M312.47 446.40 L312.47 455.40 L311.92 458.00 L311.92 461.40 L312.92 463.00 L314.38 464.90 L316.97 467.50 L317.82 469.20 L317.42 470.90 L305.38 470.90 L304.97 469.20 L305.82 467.50 L308.42 464.90 L309.88 463.00 L310.88 461.40 L310.88 458.00 L310.32 455.40 L310.32 446.40Z" fill="#fde9cf" stroke="#30261c" stroke-width="0.95" stroke-linejoin="round"/>
<line x1="305.25" y1="468.30" x2="317.55" y2="468.30" stroke="#5a4428" stroke-width="0.80"/>
<line x1="304.99" y1="470.00" x2="317.81" y2="470.00" stroke="#30200a" stroke-width="1.35"/>
<path d="M338.30 428.50 L338.39 432.00 L337.39 434.50 L336.25 437.20 L335.35 440.70 L336.55 444.10 L337.94 447.10 L338.30 451.90 L338.30 459.70 L338.10 461.50 L337.50 462.60 L327.25 462.60 L326.64 461.50 L326.44 459.70 L326.44 451.90 L326.80 447.10 L328.19 444.10 L329.39 440.70 L328.50 437.20 L327.35 434.50 L326.35 432.00 L326.44 428.50Z" fill="#ff890c" stroke="#6e3600" stroke-width="0.95" stroke-linejoin="round"/>
<line x1="326.17" y1="432.00" x2="338.57" y2="432.00" stroke="#b85000" stroke-width="0.80"/>
<line x1="326.62" y1="447.10" x2="338.12" y2="447.10" stroke="#541600" stroke-width="1.35"/>
<line x1="326.27" y1="459.70" x2="338.47" y2="459.70" stroke="#b85000" stroke-width="0.80"/>
<path d="M355.01 429.10 L353.37 434.60 L353.37 451.00 L355.21 453.60 L357.61 457.10 L358.76 459.00 L359.76 460.90 L359.61 463.10 L358.06 466.60 L357.06 468.80 L356.16 470.60 L350.51 470.60 L349.61 468.80 L348.61 466.60 L347.06 463.10 L346.91 460.90 L347.91 459.00 L349.06 457.10 L351.46 453.60 L353.31 451.00 L353.31 434.60 L351.66 429.10Z" fill="#fde9cf" stroke="#30261c" stroke-width="0.95" stroke-linejoin="round"/>
<line x1="347.11" y1="460.20" x2="359.57" y2="460.20" stroke="#5a4428" stroke-width="0.80"/>
<line x1="346.81" y1="461.90" x2="359.87" y2="461.90" stroke="#30200a" stroke-width="1.35"/>
<line x1="347.47" y1="464.40" x2="359.21" y2="464.40" stroke="#5a4428" stroke-width="0.80"/>
<path d="M380.13 437.20 L379.63 441.50 L379.04 445.00 L379.63 448.00 L380.08 450.20 L379.99 451.50 L378.19 455.40 L376.94 458.00 L375.94 460.60 L375.58 463.10 L376.04 466.00 L376.44 469.20 L372.19 469.20 L372.58 466.00 L373.04 463.10 L372.69 460.60 L371.69 458.00 L370.44 455.40 L368.63 451.50 L368.54 450.20 L368.99 448.00 L369.58 445.00 L368.99 441.50 L368.49 437.20Z" fill="#ff890c" stroke="#6e3600" stroke-width="0.95" stroke-linejoin="round"/>
<line x1="368.42" y1="451.00" x2="380.20" y2="451.00" stroke="#541600" stroke-width="1.35"/>
<line x1="372.79" y1="462.60" x2="375.83" y2="462.60" stroke="#b85000" stroke-width="0.80"/>
<path d="M395.55 407.30 L396.05 413.80 L395.55 419.00 L396.10 426.00 L395.80 430.30 L396.80 434.60 L396.30 438.90 L397.65 443.30 L398.60 445.00 L399.40 446.70 L398.85 449.30 L400.60 451.90 L401.55 454.50 L399.80 457.10 L398.45 459.70 L398.00 462.00 L397.65 464.40 L392.90 464.40 L392.55 462.00 L392.10 459.70 L390.75 457.10 L389.00 454.50 L389.95 451.90 L391.70 449.30 L391.15 446.70 L391.95 445.00 L392.90 443.30 L394.25 438.90 L393.75 434.60 L394.75 430.30 L394.45 426.00 L395.00 419.00 L394.50 413.80 L395.00 407.30Z" fill="#fde9cf" stroke="#30261c" stroke-width="0.95" stroke-linejoin="round"/>
<line x1="391.04" y1="447.00" x2="399.52" y2="447.00" stroke="#5a4428" stroke-width="0.80"/>
<line x1="389.45" y1="452.80" x2="401.11" y2="452.80" stroke="#30200a" stroke-width="1.35"/>
<line x1="390.31" y1="456.70" x2="400.25" y2="456.70" stroke="#5a4428" stroke-width="0.80"/>
<path d="M416.42 334.50 L416.42 352.00 L416.77 358.00 L417.57 365.00 L418.07 375.00 L418.67 385.00 L419.17 392.00 L419.67 398.00 L420.27 402.00 L420.77 405.00 L421.37 407.80 L422.17 411.00 L422.67 414.70 L422.47 418.50 L422.07 422.10 L420.92 426.50 L419.82 431.10 L419.37 435.50 L419.22 439.80 L419.47 443.50 L419.82 447.10 L420.02 453.60 L419.47 457.50 L418.37 460.90 L414.12 460.90 L413.02 457.50 L412.47 453.60 L412.67 447.10 L413.02 443.50 L413.27 439.80 L413.12 435.50 L412.67 431.10 L411.57 426.50 L410.42 422.10 L410.02 418.50 L409.82 414.70 L410.32 411.00 L411.12 407.80 L411.72 405.00 L412.22 402.00 L412.82 398.00 L413.32 392.00 L413.82 385.00 L414.42 375.00 L414.92 365.00 L415.72 358.00 L416.07 352.00 L416.07 334.50Z" fill="#ff890c" stroke="#6e3600" stroke-width="0.95" stroke-linejoin="round"/>
<line x1="410.95" y1="407.80" x2="421.55" y2="407.80" stroke="#b85000" stroke-width="0.80"/>
<line x1="410.25" y1="422.10" x2="422.25" y2="422.10" stroke="#541600" stroke-width="1.35"/>
<line x1="412.50" y1="447.10" x2="420.00" y2="447.10" stroke="#b85000" stroke-width="0.80"/>
<path d="M437.34 422.50 L437.34 432.90 L438.64 439.80 L439.59 448.40 L440.79 452.80 L442.54 457.10 L443.49 460.60 L442.54 464.40 L440.39 467.50 L438.99 469.50 L437.74 471.30 L436.69 471.30 L435.44 469.50 L434.04 467.50 L431.89 464.40 L430.94 460.60 L431.89 457.10 L433.64 452.80 L434.84 448.40 L435.79 439.80 L437.09 432.90 L437.09 422.50Z" fill="#fde9cf" stroke="#30261c" stroke-width="0.95" stroke-linejoin="round"/>
<line x1="433.47" y1="452.80" x2="440.97" y2="452.80" stroke="#5a4428" stroke-width="0.80"/>
<line x1="431.01" y1="459.70" x2="443.43" y2="459.70" stroke="#30200a" stroke-width="1.35"/>
<line x1="431.54" y1="463.70" x2="442.89" y2="463.70" stroke="#5a4428" stroke-width="0.80"/>
<path d="M459.26 413.80 L459.37 420.80 L461.01 426.00 L463.51 431.10 L464.01 434.60 L464.51 440.00 L464.81 445.00 L464.01 451.90 L463.51 457.10 L462.62 460.50 L461.37 464.00 L460.12 468.00 L459.21 471.30 L457.17 471.30 L456.26 468.00 L455.01 464.00 L453.76 460.50 L452.87 457.10 L452.37 451.90 L451.56 445.00 L451.87 440.00 L452.37 434.60 L452.87 431.10 L455.37 426.00 L457.01 420.80 L457.12 413.80Z" fill="#ff890c" stroke="#6e3600" stroke-width="0.95" stroke-linejoin="round"/>
<line x1="452.19" y1="434.60" x2="464.19" y2="434.60" stroke="#b85000" stroke-width="0.80"/>
<line x1="451.39" y1="445.00" x2="464.99" y2="445.00" stroke="#541600" stroke-width="1.35"/>
<line x1="452.69" y1="457.10" x2="463.69" y2="457.10" stroke="#b85000" stroke-width="0.80"/>
<path d="M479.68 436.90 L480.23 437.60 L480.23 439.60 L479.68 440.30 L480.98 443.80 L482.83 448.50 L484.98 451.50 L485.58 453.80 L483.93 456.20 L482.38 459.20 L482.68 463.10 L481.93 466.20 L480.68 469.20 L477.63 469.20 L476.38 466.20 L475.63 463.10 L475.93 459.20 L474.38 456.20 L472.73 453.80 L473.33 451.50 L475.48 448.50 L477.33 443.80 L478.63 440.30 L478.08 439.60 L478.08 437.60 L478.63 436.90Z" fill="#fde9cf" stroke="#30261c" stroke-width="0.95" stroke-linejoin="round"/>
<line x1="472.95" y1="452.30" x2="485.37" y2="452.30" stroke="#30200a" stroke-width="1.35"/>
<line x1="473.66" y1="455.40" x2="484.66" y2="455.40" stroke="#30200a" stroke-width="1.35"/>
<line x1="475.64" y1="460.80" x2="482.68" y2="460.80" stroke="#5a4428" stroke-width="0.80"/>
<path d="M503.90 428.90 L503.90 436.20 L504.95 438.50 L506.05 440.80 L506.35 444.60 L505.40 447.70 L505.05 450.80 L505.65 453.00 L506.40 455.40 L506.65 459.20 L506.40 462.30 L505.90 463.80 L505.15 464.60 L495.10 464.60 L494.35 463.80 L493.85 462.30 L493.60 459.20 L493.85 455.40 L494.60 453.00 L495.20 450.80 L494.85 447.70 L493.90 444.60 L494.20 440.80 L495.30 438.50 L496.35 436.20 L496.35 428.90Z" fill="#ff890c" stroke="#6e3600" stroke-width="0.95" stroke-linejoin="round"/>
<line x1="496.18" y1="436.20" x2="504.08" y2="436.20" stroke="#b85000" stroke-width="0.80"/>
<line x1="495.03" y1="450.80" x2="505.23" y2="450.80" stroke="#541600" stroke-width="1.35"/>
<line x1="493.43" y1="459.20" x2="506.83" y2="459.20" stroke="#b85000" stroke-width="0.80"/>
<line x1="52.80" y1="303.85" x2="52.80" y2="473.25" stroke="#000" stroke-width="1.95"/>
<line x1="51.80" y1="472.30" x2="517.40" y2="472.30" stroke="#000" stroke-width="1.90"/>
<line x1="47.05" y1="304.70" x2="52.80" y2="304.70" stroke="#000" stroke-width="1.70"/>
<text transform="translate(43.40 308.55) scale(0.5)" font-size="19.8" text-anchor="end" font-weight="bold" fill="#000">50</text>
<line x1="47.05" y1="338.20" x2="52.80" y2="338.20" stroke="#000" stroke-width="1.70"/>
<text transform="translate(43.40 342.05) scale(0.5)" font-size="19.8" text-anchor="end" font-weight="bold" fill="#000">40</text>
<line x1="47.05" y1="371.75" x2="52.80" y2="371.75" stroke="#000" stroke-width="1.70"/>
<text transform="translate(43.40 375.60) scale(0.5)" font-size="19.8" text-anchor="end" font-weight="bold" fill="#000">30</text>
<line x1="47.05" y1="405.25" x2="52.80" y2="405.25" stroke="#000" stroke-width="1.70"/>
<text transform="translate(43.40 409.10) scale(0.5)" font-size="19.8" text-anchor="end" font-weight="bold" fill="#000">20</text>
<line x1="47.05" y1="438.80" x2="52.80" y2="438.80" stroke="#000" stroke-width="1.70"/>
<text transform="translate(43.40 442.65) scale(0.5)" font-size="19.8" text-anchor="end" font-weight="bold" fill="#000">10</text>
<line x1="47.05" y1="472.30" x2="52.80" y2="472.30" stroke="#000" stroke-width="1.70"/>
<text transform="translate(43.40 476.15) scale(0.5)" font-size="19.8" text-anchor="end" font-weight="bold" fill="#000">0</text>
<text x="66.30" y="490.00" font-size="10.90" text-anchor="middle" font-weight="normal" fill="#111" stroke="#111" stroke-width="0.3">HC</text>
<line x1="94.50" y1="477.90" x2="127.50" y2="477.90" stroke="#222" stroke-width="1.30"/>
<text x="109.40" y="490.00" font-size="10.90" text-anchor="middle" font-weight="normal" fill="#111" stroke="#111" stroke-width="0.3">HNSCC</text>
<line x1="135.75" y1="477.90" x2="167.50" y2="477.90" stroke="#222" stroke-width="1.30"/>
<text x="153.50" y="490.00" font-size="10.90" text-anchor="middle" font-weight="normal" fill="#111" stroke="#111" stroke-width="0.3">NSCLC</text>
<line x1="178.75" y1="477.90" x2="211.25" y2="477.90" stroke="#222" stroke-width="1.30"/>
<text x="195.40" y="490.00" font-size="10.90" text-anchor="middle" font-weight="normal" fill="#111" stroke="#111" stroke-width="0.3">HCC</text>
<line x1="218.75" y1="477.90" x2="251.25" y2="477.90" stroke="#222" stroke-width="1.30"/>
<text x="235.40" y="490.00" font-size="10.90" text-anchor="middle" font-weight="normal" fill="#111" stroke="#111" stroke-width="0.3">BCA</text>
<line x1="261.25" y1="477.90" x2="293.75" y2="477.90" stroke="#222" stroke-width="1.30"/>
<text x="277.75" y="490.00" font-size="10.90" text-anchor="middle" font-weight="normal" fill="#111" stroke="#111" stroke-width="0.3">TGCT</text>
<line x1="302.50" y1="477.90" x2="335.00" y2="477.90" stroke="#222" stroke-width="1.30"/>
<text x="319.40" y="490.00" font-size="10.90" text-anchor="middle" font-weight="normal" fill="#111" stroke="#111" stroke-width="0.3">OVCA</text>
<line x1="343.75" y1="477.90" x2="376.25" y2="477.90" stroke="#222" stroke-width="1.30"/>
<text x="360.40" y="490.00" font-size="10.90" text-anchor="middle" font-weight="normal" fill="#111" stroke="#111" stroke-width="0.3">UCC</text>
<line x1="386.25" y1="477.90" x2="418.75" y2="477.90" stroke="#222" stroke-width="1.30"/>
<text x="402.75" y="490.00" font-size="10.90" text-anchor="middle" font-weight="normal" fill="#111" stroke="#111" stroke-width="0.3">CRC</text>
<line x1="430.75" y1="477.90" x2="463.75" y2="477.90" stroke="#222" stroke-width="1.30"/>
<text x="448.75" y="490.00" font-size="10.90" text-anchor="middle" font-weight="normal" fill="#111" stroke="#111" stroke-width="0.3">EGA</text>
<line x1="473.25" y1="477.90" x2="505.75" y2="477.90" stroke="#222" stroke-width="1.30"/>
<text x="489.10" y="490.00" font-size="10.90" text-anchor="middle" font-weight="normal" fill="#111" stroke="#111" stroke-width="0.3">RCC</text>
<text x="101.70" y="368.20" font-size="9.60" text-anchor="middle" font-weight="normal" fill="#111" textLength="9.2" lengthAdjust="spacingAndGlyphs" stroke="#111" stroke-width="0.2">ns</text>
<text x="122.89" y="370.90" font-size="9.60" text-anchor="middle" font-weight="bold" fill="#111" letter-spacing="0.45">****</text>
<path d="M102.50 359.65 V356.45 H123.77 V359.65" fill="none" stroke="#333" stroke-width="1"/>
<text x="113.30" y="357.10" font-size="9.60" text-anchor="middle" font-weight="bold" fill="#111" letter-spacing="0.45">****</text>
<text x="141.86" y="436.10" font-size="9.60" text-anchor="middle" font-weight="bold" fill="#111" letter-spacing="0.45">*</text>
<text x="162.83" y="436.10" font-size="9.60" text-anchor="middle" font-weight="bold" fill="#111" letter-spacing="0.45">***</text>
<path d="M143.24 422.90 V419.70 H164.51 V422.90" fill="none" stroke="#333" stroke-width="1"/>
<text x="154.04" y="420.60" font-size="9.60" text-anchor="middle" font-weight="bold" fill="#111" letter-spacing="0.45">****</text>
<text x="185.80" y="408.50" font-size="9.60" text-anchor="middle" font-weight="bold" fill="#111" letter-spacing="0.45">*</text>
<text x="206.77" y="408.50" font-size="9.60" text-anchor="middle" font-weight="bold" fill="#111" letter-spacing="0.45">****</text>
<path d="M186.28 395.40 V392.20 H207.55 V395.40" fill="none" stroke="#333" stroke-width="1"/>
<text x="197.08" y="392.85" font-size="9.60" text-anchor="middle" font-weight="bold" fill="#111" letter-spacing="0.45">****</text>
<text x="227.52" y="428.50" font-size="9.60" text-anchor="middle" font-weight="normal" fill="#111" textLength="9.2" lengthAdjust="spacingAndGlyphs" stroke="#111" stroke-width="0.2">ns</text>
<text x="248.71" y="431.20" font-size="9.60" text-anchor="middle" font-weight="bold" fill="#111" letter-spacing="0.45">***</text>
<path d="M227.72 418.80 V415.60 H248.99 V418.80" fill="none" stroke="#333" stroke-width="1"/>
<text x="238.30" y="412.50" font-size="9.60" text-anchor="middle" font-weight="normal" fill="#111" textLength="9.2" lengthAdjust="spacingAndGlyphs" stroke="#111" stroke-width="0.2">ns</text>
<text x="269.46" y="446.00" font-size="9.60" text-anchor="middle" font-weight="normal" fill="#111" textLength="9.2" lengthAdjust="spacingAndGlyphs" stroke="#111" stroke-width="0.2">ns</text>
<text x="290.43" y="446.00" font-size="9.60" text-anchor="middle" font-weight="normal" fill="#111" textLength="9.2" lengthAdjust="spacingAndGlyphs" stroke="#111" stroke-width="0.2">ns</text>
<path d="M269.06 435.90 V432.70 H290.33 V435.90" fill="none" stroke="#333" stroke-width="1"/>
<text x="279.65" y="430.20" font-size="9.60" text-anchor="middle" font-weight="normal" fill="#111" textLength="9.2" lengthAdjust="spacingAndGlyphs" stroke="#111" stroke-width="0.2">ns</text>
<text x="311.40" y="424.30" font-size="9.60" text-anchor="middle" font-weight="normal" fill="#111" textLength="9.2" lengthAdjust="spacingAndGlyphs" stroke="#111" stroke-width="0.2">ns</text>
<text x="332.59" y="427.00" font-size="9.60" text-anchor="middle" font-weight="bold" fill="#111" letter-spacing="0.45">****</text>
<path d="M313.20 415.90 V412.70 H334.47 V415.90" fill="none" stroke="#333" stroke-width="1"/>
<text x="324.01" y="413.00" font-size="9.60" text-anchor="middle" font-weight="bold" fill="#111" letter-spacing="0.45">***</text>
<text x="353.34" y="424.30" font-size="9.60" text-anchor="middle" font-weight="normal" fill="#111" textLength="9.2" lengthAdjust="spacingAndGlyphs" stroke="#111" stroke-width="0.2">ns</text>
<text x="374.53" y="427.00" font-size="9.60" text-anchor="middle" font-weight="bold" fill="#111" letter-spacing="0.45">**</text>
<path d="M353.84 413.40 V410.20 H375.11 V413.40" fill="none" stroke="#333" stroke-width="1"/>
<text x="364.43" y="406.10" font-size="9.60" text-anchor="middle" font-weight="normal" fill="#111" textLength="9.2" lengthAdjust="spacingAndGlyphs" stroke="#111" stroke-width="0.2">ns</text>
<text x="395.50" y="332.60" font-size="9.60" text-anchor="middle" font-weight="bold" fill="#111" letter-spacing="0.45">**</text>
<text x="416.47" y="332.60" font-size="9.60" text-anchor="middle" font-weight="bold" fill="#111" letter-spacing="0.45">****</text>
<path d="M394.78 321.65 V318.45 H416.05 V321.65" fill="none" stroke="#333" stroke-width="1"/>
<text x="405.59" y="318.85" font-size="9.60" text-anchor="middle" font-weight="bold" fill="#111" letter-spacing="0.45">****</text>
<text x="437.44" y="413.70" font-size="9.60" text-anchor="middle" font-weight="bold" fill="#111" letter-spacing="0.45">**</text>
<text x="458.41" y="413.70" font-size="9.60" text-anchor="middle" font-weight="bold" fill="#111" letter-spacing="0.45">****</text>
<path d="M436.92 401.40 V398.20 H458.19 V401.40" fill="none" stroke="#333" stroke-width="1"/>
<text x="447.73" y="398.35" font-size="9.60" text-anchor="middle" font-weight="bold" fill="#111" letter-spacing="0.45">**</text>
<text x="479.38" y="427.70" font-size="9.60" text-anchor="middle" font-weight="bold" fill="#111" letter-spacing="0.45">**</text>
<text x="500.35" y="427.70" font-size="9.60" text-anchor="middle" font-weight="bold" fill="#111" letter-spacing="0.45">****</text>
<path d="M478.06 414.20 V411.00 H499.33 V414.20" fill="none" stroke="#333" stroke-width="1"/>
<text x="488.87" y="411.60" font-size="9.60" text-anchor="middle" font-weight="bold" fill="#111" letter-spacing="0.45">*</text>
<text x="0.50" y="515.40" font-size="16.00" text-anchor="start" font-weight="bold" fill="#000" >C</text>
<text transform="translate(20.80 655.30) rotate(-90)" font-size="12.40" text-anchor="start" fill="#0a0a0a" stroke="#0a0a0a" stroke-width="0.22">CD86<tspan font-size="7" font-weight="bold" dy="-6.1">−</tspan><tspan dy="6.1"> % B</tspan><tspan dx="-0.6"> cells</tspan></text>
<path d="M70.97 532.10 L71.72 532.80 L72.08 533.80 L71.72 535.00 L71.12 536.50 L69.28 540.40 L67.53 544.20 L66.62 548.10 L65.88 551.90 L65.62 554.00 L65.62 560.40 L65.92 562.50 L66.33 564.50 L64.67 564.50 L65.08 562.50 L65.38 560.40 L65.38 554.00 L65.12 551.90 L64.38 548.10 L63.48 544.20 L61.73 540.40 L59.88 536.50 L59.27 535.00 L58.92 533.80 L59.27 532.80 L60.02 532.10Z" fill="#22aa22" stroke="#073d07" stroke-width="0.95" stroke-linejoin="round"/>
<line x1="58.75" y1="533.80" x2="72.25" y2="533.80" stroke="#0a5c0a" stroke-width="0.80"/>
<line x1="59.70" y1="536.50" x2="71.30" y2="536.50" stroke="#053005" stroke-width="1.35"/>
<line x1="61.36" y1="540.00" x2="69.64" y2="540.00" stroke="#0a5c0a" stroke-width="0.80"/>
<path d="M103.62 533.25 L104.38 535.00 L104.88 538.00 L106.12 541.00 L107.25 545.00 L106.38 548.00 L105.12 551.00 L105.88 553.50 L106.62 556.00 L104.88 559.00 L102.62 562.00 L100.88 565.00 L100.72 584.25 L100.47 584.25 L100.32 565.00 L98.57 562.00 L96.32 559.00 L94.57 556.00 L95.32 553.50 L96.07 551.00 L94.82 548.00 L93.95 545.00 L95.07 541.00 L96.32 538.00 L96.82 535.00 L97.57 533.25Z" fill="#d3e5f9" stroke="#1e2632" stroke-width="0.95" stroke-linejoin="round"/>
<line x1="95.32" y1="540.00" x2="105.88" y2="540.00" stroke="#2e4468" stroke-width="0.80"/>
<line x1="94.07" y1="546.00" x2="107.13" y2="546.00" stroke="#0e1a38" stroke-width="1.35"/>
<line x1="94.55" y1="555.50" x2="106.65" y2="555.50" stroke="#2e4468" stroke-width="0.80"/>
<path d="M123.08 540.00 L123.58 550.00 L124.33 560.00 L125.33 570.00 L125.83 580.00 L126.08 590.00 L126.33 597.00 L127.33 604.00 L128.07 610.00 L127.58 616.00 L126.33 622.00 L125.33 628.00 L124.58 631.25 L118.52 631.25 L117.77 628.00 L116.77 622.00 L115.52 616.00 L115.02 610.00 L115.77 604.00 L116.77 597.00 L117.02 590.00 L117.27 580.00 L117.77 570.00 L118.77 560.00 L119.52 550.00 L120.02 540.00Z" fill="#1208f8" stroke="#08067a" stroke-width="0.95" stroke-linejoin="round"/>
<line x1="117.85" y1="567.50" x2="125.25" y2="567.50" stroke="#0808b4" stroke-width="0.80"/>
<line x1="116.82" y1="590.75" x2="126.28" y2="590.75" stroke="#02024a" stroke-width="1.35"/>
<line x1="114.94" y1="609.25" x2="128.16" y2="609.25" stroke="#0808b4" stroke-width="0.80"/>
<path d="M148.32 529.50 L149.12 530.40 L149.28 531.80 L148.28 533.00 L146.38 534.20 L145.12 540.80 L144.62 546.00 L144.32 547.70 L143.43 548.30 L143.43 559.80 L141.57 559.80 L141.57 548.30 L140.68 547.70 L140.38 546.00 L139.88 540.80 L138.62 534.20 L136.72 533.00 L135.72 531.80 L135.88 530.40 L136.68 529.50Z" fill="#d3e5f9" stroke="#1e2632" stroke-width="0.95" stroke-linejoin="round"/>
<line x1="135.57" y1="531.60" x2="149.43" y2="531.60" stroke="#0e1a38" stroke-width="1.35"/>
<line x1="137.50" y1="533.60" x2="147.50" y2="533.60" stroke="#2e4468" stroke-width="0.80"/>
<line x1="140.50" y1="547.70" x2="144.50" y2="547.70" stroke="#2e4468" stroke-width="0.80"/>
<path d="M168.17 533.50 L169.47 535.00 L170.17 537.30 L170.17 542.50 L169.62 548.00 L168.88 554.60 L167.97 560.00 L167.12 565.00 L166.38 570.00 L165.72 575.40 L165.38 580.50 L165.47 583.50 L165.72 585.70 L161.17 585.70 L161.42 583.50 L161.52 580.50 L161.17 575.40 L160.52 570.00 L159.77 565.00 L158.92 560.00 L158.02 554.60 L157.27 548.00 L156.72 542.50 L156.72 537.30 L157.42 535.00 L158.72 533.50Z" fill="#1208f8" stroke="#08067a" stroke-width="0.95" stroke-linejoin="round"/>
<line x1="156.55" y1="540.80" x2="170.35" y2="540.80" stroke="#0808b4" stroke-width="0.80"/>
<line x1="157.85" y1="554.60" x2="169.05" y2="554.60" stroke="#02024a" stroke-width="1.35"/>
<path d="M186.92 537.30 L186.92 539.90 L188.17 541.50 L189.52 543.40 L190.82 546.00 L190.42 548.50 L189.12 550.30 L187.82 552.00 L186.52 554.00 L185.42 556.30 L185.62 558.00 L185.82 559.80 L185.22 561.50 L184.52 563.30 L184.52 583.10 L185.22 584.00 L185.42 585.30 L185.12 586.50 L183.67 586.50 L183.37 585.30 L183.57 584.00 L184.27 583.10 L184.27 563.30 L183.57 561.50 L182.97 559.80 L183.17 558.00 L183.37 556.30 L182.27 554.00 L180.97 552.00 L179.67 550.30 L178.37 548.50 L177.97 546.00 L179.27 543.40 L180.62 541.50 L181.87 539.90 L181.87 537.30Z" fill="#d3e5f9" stroke="#1e2632" stroke-width="0.95" stroke-linejoin="round"/>
<line x1="178.85" y1="543.90" x2="189.95" y2="543.90" stroke="#2e4468" stroke-width="0.80"/>
<line x1="177.88" y1="546.50" x2="190.92" y2="546.50" stroke="#0e1a38" stroke-width="1.35"/>
<line x1="178.20" y1="548.50" x2="190.60" y2="548.50" stroke="#2e4468" stroke-width="0.80"/>
<path d="M208.07 582.30 L209.88 584.30 L211.53 586.60 L211.53 588.30 L209.57 590.50 L207.62 592.70 L205.97 595.30 L206.57 597.50 L207.03 599.60 L203.67 599.60 L204.12 597.50 L204.72 595.30 L203.07 592.70 L201.12 590.50 L199.17 588.30 L199.17 586.60 L200.82 584.30 L202.62 582.30Z" fill="#1208f8" stroke="#08067a" stroke-width="0.95" stroke-linejoin="round"/>
<line x1="200.15" y1="585.00" x2="210.55" y2="585.00" stroke="#0808b4" stroke-width="0.80"/>
<line x1="199.00" y1="587.00" x2="211.70" y2="587.00" stroke="#02024a" stroke-width="1.35"/>
<path d="M229.27 530.40 L231.02 533.80 L232.72 537.30 L232.72 543.40 L231.52 546.00 L229.92 549.00 L228.42 552.00 L229.32 554.60 L230.17 557.20 L230.17 559.80 L229.27 565.00 L228.42 571.90 L224.17 571.90 L223.32 565.00 L222.42 559.80 L222.42 557.20 L223.27 554.60 L224.17 552.00 L222.67 549.00 L221.07 546.00 L219.87 543.40 L219.87 537.30 L221.57 533.80 L223.32 530.40Z" fill="#d3e5f9" stroke="#1e2632" stroke-width="0.95" stroke-linejoin="round"/>
<line x1="219.70" y1="539.90" x2="232.90" y2="539.90" stroke="#2e4468" stroke-width="0.80"/>
<line x1="219.70" y1="543.40" x2="232.90" y2="543.40" stroke="#0e1a38" stroke-width="1.35"/>
<line x1="222.25" y1="559.80" x2="230.35" y2="559.80" stroke="#2e4468" stroke-width="0.80"/>
<path d="M248.32 530.40 L248.53 537.30 L249.38 541.50 L250.47 546.00 L251.68 550.00 L252.82 554.60 L253.38 558.50 L253.68 562.40 L253.28 566.00 L252.68 570.20 L251.43 577.10 L251.12 585.70 L250.22 592.70 L249.53 596.10 L244.97 596.10 L244.28 592.70 L243.38 585.70 L243.07 577.10 L241.82 570.20 L241.22 566.00 L240.82 562.40 L241.12 558.50 L241.68 554.60 L242.82 550.00 L244.03 546.00 L245.12 541.50 L245.97 537.30 L246.18 530.40Z" fill="#1208f8" stroke="#08067a" stroke-width="0.95" stroke-linejoin="round"/>
<line x1="241.50" y1="554.60" x2="253.00" y2="554.60" stroke="#0808b4" stroke-width="0.80"/>
<line x1="240.65" y1="562.40" x2="253.85" y2="562.40" stroke="#02024a" stroke-width="1.35"/>
<line x1="243.02" y1="580.60" x2="251.48" y2="580.60" stroke="#0808b4" stroke-width="0.80"/>
<path d="M270.72 532.50 L270.72 534.70 L272.47 539.00 L274.57 543.40 L274.57 546.80 L261.82 546.80 L261.82 543.40 L263.93 539.00 L265.68 534.70 L265.68 532.50Z" fill="#d3e5f9" stroke="#1e2632" stroke-width="0.95" stroke-linejoin="round"/>
<line x1="265.50" y1="534.70" x2="270.90" y2="534.70" stroke="#2e4468" stroke-width="0.80"/>
<line x1="261.65" y1="543.40" x2="274.75" y2="543.40" stroke="#0e1a38" stroke-width="1.35"/>
<path d="M295.32 540.40 L295.07 545.00 L294.47 549.40 L293.27 554.60 L292.32 559.80 L292.38 562.50 L292.57 565.80 L285.72 565.80 L285.92 562.50 L285.97 559.80 L285.02 554.60 L283.82 549.40 L283.22 545.00 L282.97 540.40Z" fill="#1208f8" stroke="#08067a" stroke-width="0.95" stroke-linejoin="round"/>
<line x1="283.53" y1="548.50" x2="294.77" y2="548.50" stroke="#0808b4" stroke-width="0.80"/>
<path d="M316.12 529.50 L316.50 530.50 L315.88 532.00 L313.88 535.00 L312.38 538.00 L311.23 541.25 L311.23 549.25 L308.98 549.25 L308.98 541.25 L307.83 538.00 L306.33 535.00 L304.33 532.00 L303.70 530.50 L304.08 529.50Z" fill="#d3e5f9" stroke="#1e2632" stroke-width="0.95" stroke-linejoin="round"/>
<line x1="303.94" y1="531.50" x2="316.26" y2="531.50" stroke="#0e1a38" stroke-width="1.35"/>
<line x1="308.80" y1="542.00" x2="311.40" y2="542.00" stroke="#2e4468" stroke-width="0.80"/>
<path d="M332.57 538.75 L332.37 545.00 L331.97 552.00 L331.67 557.50 L332.07 562.00 L333.07 567.00 L334.82 572.00 L336.57 577.00 L337.45 581.25 L337.07 585.00 L336.07 590.00 L334.82 595.00 L333.57 600.50 L328.52 600.50 L327.27 595.00 L326.02 590.00 L325.02 585.00 L324.65 581.25 L325.52 577.00 L327.27 572.00 L329.02 567.00 L330.02 562.00 L330.42 557.50 L330.12 552.00 L329.72 545.00 L329.52 538.75Z" fill="#1208f8" stroke="#08067a" stroke-width="0.95" stroke-linejoin="round"/>
<line x1="324.47" y1="581.25" x2="337.62" y2="581.25" stroke="#02024a" stroke-width="1.35"/>
<line x1="326.47" y1="592.50" x2="335.62" y2="592.50" stroke="#0808b4" stroke-width="0.80"/>
<path d="M356.02 531.25 L357.52 533.00 L358.52 536.00 L358.65 538.75 L358.02 541.00 L356.77 544.00 L355.27 547.00 L353.77 550.00 L352.52 553.75 L352.27 560.00 L352.27 566.00 L353.27 568.50 L353.52 571.25 L350.48 571.25 L350.73 568.50 L351.73 566.00 L351.73 560.00 L351.48 553.75 L350.23 550.00 L348.73 547.00 L347.23 544.00 L345.98 541.00 L345.35 538.75 L345.48 536.00 L346.48 533.00 L347.98 531.25Z" fill="#d3e5f9" stroke="#1e2632" stroke-width="0.95" stroke-linejoin="round"/>
<line x1="345.63" y1="535.00" x2="358.37" y2="535.00" stroke="#2e4468" stroke-width="0.80"/>
<line x1="345.52" y1="540.00" x2="358.48" y2="540.00" stroke="#0e1a38" stroke-width="1.35"/>
<path d="M376.47 536.75 L376.57 545.00 L376.97 552.00 L377.72 558.00 L378.47 565.00 L378.97 570.00 L379.35 575.00 L379.22 580.00 L378.47 586.00 L377.72 592.00 L376.97 598.00 L376.47 602.00 L369.42 602.00 L368.92 598.00 L368.17 592.00 L367.42 586.00 L366.67 580.00 L366.55 575.00 L366.92 570.00 L367.42 565.00 L368.17 558.00 L368.92 552.00 L369.32 545.00 L369.42 536.75Z" fill="#1208f8" stroke="#08067a" stroke-width="0.95" stroke-linejoin="round"/>
<line x1="369.15" y1="545.00" x2="376.75" y2="545.00" stroke="#0808b4" stroke-width="0.80"/>
<line x1="366.37" y1="575.00" x2="379.52" y2="575.00" stroke="#02024a" stroke-width="1.35"/>
<line x1="368.00" y1="592.00" x2="377.90" y2="592.00" stroke="#0808b4" stroke-width="0.80"/>
<path d="M398.62 538.20 L399.52 539.60 L399.97 541.60 L400.17 547.70 L399.47 554.60 L398.22 555.60 L397.77 557.20 L397.07 565.00 L397.77 571.00 L397.02 574.00 L396.27 577.10 L395.42 582.00 L394.82 587.50 L395.82 592.00 L396.72 596.10 L396.27 601.70 L391.52 601.70 L391.07 596.10 L391.97 592.00 L392.97 587.50 L392.38 582.00 L391.52 577.10 L390.77 574.00 L390.02 571.00 L390.72 565.00 L390.02 557.20 L389.57 555.60 L388.32 554.60 L387.62 547.70 L387.82 541.60 L388.27 539.60 L389.17 538.20Z" fill="#d3e5f9" stroke="#1e2632" stroke-width="0.95" stroke-linejoin="round"/>
<line x1="387.45" y1="547.70" x2="400.35" y2="547.70" stroke="#2e4468" stroke-width="0.80"/>
<line x1="388.13" y1="554.40" x2="399.67" y2="554.40" stroke="#0e1a38" stroke-width="1.35"/>
<line x1="389.85" y1="571.00" x2="397.95" y2="571.00" stroke="#2e4468" stroke-width="0.80"/>
<path d="M418.03 542.80 L418.68 548.00 L419.78 555.00 L420.68 561.50 L420.98 566.00 L421.12 571.90 L420.78 576.00 L420.18 580.60 L420.68 585.00 L421.48 590.60 L421.28 599.00 L420.38 606.00 L419.18 614.00 L418.12 624.00 L417.12 635.00 L416.38 649.00 L415.78 660.00 L415.38 669.00 L415.18 680.00 L415.48 691.50 L414.23 691.50 L414.53 680.00 L414.33 669.00 L413.93 660.00 L413.33 649.00 L412.58 635.00 L411.58 624.00 L410.53 614.00 L409.33 606.00 L408.43 599.00 L408.23 590.60 L409.03 585.00 L409.53 580.60 L408.93 576.00 L408.58 571.90 L408.73 566.00 L409.03 561.50 L409.93 555.00 L411.03 548.00 L411.68 542.80Z" fill="#1208f8" stroke="#08067a" stroke-width="0.95" stroke-linejoin="round"/>
<line x1="408.85" y1="561.50" x2="420.85" y2="561.50" stroke="#0808b4" stroke-width="0.80"/>
<line x1="408.05" y1="590.60" x2="421.65" y2="590.60" stroke="#02024a" stroke-width="1.35"/>
<line x1="410.31" y1="613.75" x2="419.39" y2="613.75" stroke="#0808b4" stroke-width="0.80"/>
<path d="M436.32 530.00 L438.07 532.30 L440.07 534.70 L442.17 538.20 L442.17 543.40 L440.07 547.70 L437.62 552.00 L436.92 556.30 L436.82 570.00 L436.52 577.00 L436.17 582.00 L436.07 586.50 L436.62 588.20 L436.62 589.20 L434.97 589.20 L434.97 588.20 L435.52 586.50 L435.42 582.00 L435.07 577.00 L434.77 570.00 L434.67 556.30 L433.97 552.00 L431.52 547.70 L429.42 543.40 L429.42 538.20 L431.52 534.70 L433.52 532.30 L435.27 530.00Z" fill="#d3e5f9" stroke="#1e2632" stroke-width="0.95" stroke-linejoin="round"/>
<line x1="429.25" y1="538.20" x2="442.35" y2="538.20" stroke="#2e4468" stroke-width="0.80"/>
<line x1="429.25" y1="543.40" x2="442.35" y2="543.40" stroke="#0e1a38" stroke-width="1.35"/>
<line x1="434.50" y1="556.30" x2="437.10" y2="556.30" stroke="#2e4468" stroke-width="0.80"/>
<path d="M458.02 531.80 L458.27 536.40 L459.52 539.00 L461.02 541.60 L462.07 544.20 L462.93 546.80 L463.02 550.30 L462.48 553.50 L461.73 557.20 L460.77 563.30 L460.43 571.90 L461.27 577.00 L461.98 581.40 L460.77 585.50 L459.48 589.20 L458.68 593.00 L458.02 597.00 L455.48 597.00 L454.82 593.00 L454.02 589.20 L452.73 585.50 L451.52 581.40 L452.23 577.00 L453.07 571.90 L452.73 563.30 L451.77 557.20 L451.02 553.50 L450.48 550.30 L450.57 546.80 L451.43 544.20 L452.48 541.60 L453.98 539.00 L455.23 536.40 L455.48 531.80Z" fill="#1208f8" stroke="#08067a" stroke-width="0.95" stroke-linejoin="round"/>
<line x1="450.40" y1="546.80" x2="463.10" y2="546.80" stroke="#0808b4" stroke-width="0.80"/>
<line x1="452.55" y1="563.30" x2="460.95" y2="563.30" stroke="#02024a" stroke-width="1.35"/>
<line x1="451.35" y1="581.40" x2="462.15" y2="581.40" stroke="#0808b4" stroke-width="0.80"/>
<path d="M479.62 530.40 L480.62 533.80 L481.57 537.30 L481.97 541.60 L483.12 546.00 L483.97 550.30 L483.02 553.00 L481.97 555.50 L480.72 558.50 L479.62 561.50 L478.92 565.00 L478.52 568.40 L478.22 576.00 L477.92 584.00 L478.02 587.50 L478.52 588.60 L478.52 589.20 L476.87 589.20 L476.87 588.60 L477.37 587.50 L477.47 584.00 L477.17 576.00 L476.87 568.40 L476.47 565.00 L475.77 561.50 L474.67 558.50 L473.42 555.50 L472.37 553.00 L471.42 550.30 L472.27 546.00 L473.42 541.60 L473.82 537.30 L474.77 533.80 L475.77 530.40Z" fill="#d3e5f9" stroke="#1e2632" stroke-width="0.95" stroke-linejoin="round"/>
<line x1="473.25" y1="541.60" x2="482.15" y2="541.60" stroke="#2e4468" stroke-width="0.80"/>
<line x1="471.25" y1="550.30" x2="484.15" y2="550.30" stroke="#0e1a38" stroke-width="1.35"/>
<line x1="473.25" y1="555.50" x2="482.15" y2="555.50" stroke="#2e4468" stroke-width="0.80"/>
<path d="M502.77 536.80 L502.07 542.50 L502.38 546.00 L502.77 549.40 L503.57 552.00 L504.47 554.60 L505.07 558.00 L504.22 563.30 L503.17 566.80 L502.07 570.20 L500.92 574.50 L499.92 578.80 L499.02 584.90 L499.47 588.00 L499.92 591.30 L497.38 591.30 L497.82 588.00 L498.27 584.90 L497.38 578.80 L496.38 574.50 L495.22 570.20 L494.12 566.80 L493.07 563.30 L492.22 558.00 L492.82 554.60 L493.72 552.00 L494.52 549.40 L494.92 546.00 L495.22 542.50 L494.52 536.80Z" fill="#1208f8" stroke="#08067a" stroke-width="0.95" stroke-linejoin="round"/>
<line x1="494.35" y1="549.40" x2="502.95" y2="549.40" stroke="#0808b4" stroke-width="0.80"/>
<line x1="492.05" y1="558.00" x2="505.25" y2="558.00" stroke="#02024a" stroke-width="1.35"/>
<line x1="493.71" y1="566.00" x2="503.59" y2="566.00" stroke="#0808b4" stroke-width="0.80"/>
<line x1="51.30" y1="526.80" x2="51.30" y2="695.75" stroke="#000" stroke-width="1.95"/>
<line x1="50.30" y1="694.80" x2="516.30" y2="694.80" stroke="#000" stroke-width="1.90"/>
<line x1="45.55" y1="527.65" x2="51.30" y2="527.65" stroke="#000" stroke-width="1.70"/>
<text transform="translate(43.90 531.10) scale(0.5)" font-size="19.8" text-anchor="end" font-weight="bold" fill="#000">100</text>
<line x1="45.55" y1="561.10" x2="51.30" y2="561.10" stroke="#000" stroke-width="1.70"/>
<text transform="translate(43.90 564.55) scale(0.5)" font-size="19.8" text-anchor="end" font-weight="bold" fill="#000">90</text>
<line x1="45.55" y1="594.50" x2="51.30" y2="594.50" stroke="#000" stroke-width="1.70"/>
<text transform="translate(43.90 597.95) scale(0.5)" font-size="19.8" text-anchor="end" font-weight="bold" fill="#000">80</text>
<line x1="45.55" y1="627.95" x2="51.30" y2="627.95" stroke="#000" stroke-width="1.70"/>
<text transform="translate(43.90 631.40) scale(0.5)" font-size="19.8" text-anchor="end" font-weight="bold" fill="#000">70</text>
<line x1="45.55" y1="661.35" x2="51.30" y2="661.35" stroke="#000" stroke-width="1.70"/>
<text transform="translate(43.90 664.80) scale(0.5)" font-size="19.8" text-anchor="end" font-weight="bold" fill="#000">60</text>
<line x1="45.55" y1="694.80" x2="51.30" y2="694.80" stroke="#000" stroke-width="1.70"/>
<text transform="translate(43.90 698.25) scale(0.5)" font-size="19.8" text-anchor="end" font-weight="bold" fill="#000">50</text>
<text x="64.60" y="714.20" font-size="10.90" text-anchor="middle" font-weight="normal" fill="#111" stroke="#111" stroke-width="0.3">HC</text>
<line x1="92.50" y1="702.80" x2="125.50" y2="702.80" stroke="#222" stroke-width="1.30"/>
<text x="107.90" y="714.20" font-size="10.90" text-anchor="middle" font-weight="normal" fill="#111" stroke="#111" stroke-width="0.3">HNSCC</text>
<line x1="133.75" y1="702.80" x2="166.25" y2="702.80" stroke="#222" stroke-width="1.30"/>
<text x="151.60" y="714.20" font-size="10.90" text-anchor="middle" font-weight="normal" fill="#111" stroke="#111" stroke-width="0.3">NSCLC</text>
<line x1="177.00" y1="702.80" x2="209.50" y2="702.80" stroke="#222" stroke-width="1.30"/>
<text x="193.50" y="714.20" font-size="10.90" text-anchor="middle" font-weight="normal" fill="#111" stroke="#111" stroke-width="0.3">HCC</text>
<line x1="217.00" y1="702.80" x2="249.50" y2="702.80" stroke="#222" stroke-width="1.30"/>
<text x="233.50" y="714.20" font-size="10.90" text-anchor="middle" font-weight="normal" fill="#111" stroke="#111" stroke-width="0.3">BCA</text>
<line x1="259.50" y1="702.80" x2="292.00" y2="702.80" stroke="#222" stroke-width="1.30"/>
<text x="276.00" y="714.20" font-size="10.90" text-anchor="middle" font-weight="normal" fill="#111" stroke="#111" stroke-width="0.3">TGCT</text>
<line x1="300.50" y1="702.80" x2="333.25" y2="702.80" stroke="#222" stroke-width="1.30"/>
<text x="317.50" y="714.20" font-size="10.90" text-anchor="middle" font-weight="normal" fill="#111" stroke="#111" stroke-width="0.3">OVCA</text>
<line x1="342.00" y1="702.80" x2="375.00" y2="702.80" stroke="#222" stroke-width="1.30"/>
<text x="358.75" y="714.20" font-size="10.90" text-anchor="middle" font-weight="normal" fill="#111" stroke="#111" stroke-width="0.3">UCC</text>
<line x1="384.50" y1="702.80" x2="417.00" y2="702.80" stroke="#222" stroke-width="1.30"/>
<text x="401.25" y="714.20" font-size="10.90" text-anchor="middle" font-weight="normal" fill="#111" stroke="#111" stroke-width="0.3">CRC</text>
<line x1="429.50" y1="702.80" x2="462.00" y2="702.80" stroke="#222" stroke-width="1.30"/>
<text x="446.75" y="714.20" font-size="10.90" text-anchor="middle" font-weight="normal" fill="#111" stroke="#111" stroke-width="0.3">EGA</text>
<line x1="471.25" y1="702.80" x2="503.75" y2="702.80" stroke="#222" stroke-width="1.30"/>
<text x="487.75" y="714.20" font-size="10.90" text-anchor="middle" font-weight="normal" fill="#111" stroke="#111" stroke-width="0.3">RCC</text>
<text x="100.60" y="521.20" font-size="9.60" text-anchor="middle" font-weight="normal" fill="#111" textLength="9.2" lengthAdjust="spacingAndGlyphs" stroke="#111" stroke-width="0.2">ns</text>
<text x="121.77" y="523.90" font-size="9.60" text-anchor="middle" font-weight="bold" fill="#111" letter-spacing="0.45">****</text>
<path d="M102.50 510.40 V507.20 H123.75 V510.40" fill="none" stroke="#333" stroke-width="1"/>
<text x="113.29" y="507.90" font-size="9.60" text-anchor="middle" font-weight="bold" fill="#111" letter-spacing="0.45">****</text>
<text x="142.50" y="521.20" font-size="9.60" text-anchor="middle" font-weight="normal" fill="#111" textLength="9.2" lengthAdjust="spacingAndGlyphs" stroke="#111" stroke-width="0.2">ns</text>
<text x="163.67" y="523.90" font-size="9.60" text-anchor="middle" font-weight="bold" fill="#111" letter-spacing="0.45">****</text>
<path d="M145.00 510.40 V507.20 H166.25 V510.40" fill="none" stroke="#333" stroke-width="1"/>
<text x="155.79" y="507.90" font-size="9.60" text-anchor="middle" font-weight="bold" fill="#111" letter-spacing="0.45">****</text>
<text x="184.62" y="523.90" font-size="9.60" text-anchor="middle" font-weight="bold" fill="#111" letter-spacing="0.45">*</text>
<text x="205.57" y="523.90" font-size="9.60" text-anchor="middle" font-weight="bold" fill="#111" letter-spacing="0.45">****</text>
<path d="M184.90 510.40 V507.20 H206.15 V510.40" fill="none" stroke="#333" stroke-width="1"/>
<text x="195.69" y="507.90" font-size="9.60" text-anchor="middle" font-weight="bold" fill="#111" letter-spacing="0.45">****</text>
<text x="226.30" y="521.20" font-size="9.60" text-anchor="middle" font-weight="normal" fill="#111" textLength="9.2" lengthAdjust="spacingAndGlyphs" stroke="#111" stroke-width="0.2">ns</text>
<text x="247.47" y="523.90" font-size="9.60" text-anchor="middle" font-weight="bold" fill="#111" letter-spacing="0.45">****</text>
<path d="M226.30 510.40 V507.20 H247.55 V510.40" fill="none" stroke="#333" stroke-width="1"/>
<text x="237.09" y="507.90" font-size="9.60" text-anchor="middle" font-weight="bold" fill="#111" letter-spacing="0.45">**</text>
<text x="268.20" y="521.20" font-size="9.60" text-anchor="middle" font-weight="normal" fill="#111" textLength="9.2" lengthAdjust="spacingAndGlyphs" stroke="#111" stroke-width="0.2">ns</text>
<text x="289.37" y="523.90" font-size="9.60" text-anchor="middle" font-weight="bold" fill="#111" letter-spacing="0.45">*</text>
<path d="M269.40 510.40 V507.20 H290.65 V510.40" fill="none" stroke="#333" stroke-width="1"/>
<text x="279.97" y="504.70" font-size="9.60" text-anchor="middle" font-weight="normal" fill="#111" textLength="9.2" lengthAdjust="spacingAndGlyphs" stroke="#111" stroke-width="0.2">ns</text>
<text x="310.10" y="521.20" font-size="9.60" text-anchor="middle" font-weight="normal" fill="#111" textLength="9.2" lengthAdjust="spacingAndGlyphs" stroke="#111" stroke-width="0.2">ns</text>
<text x="331.27" y="523.90" font-size="9.60" text-anchor="middle" font-weight="bold" fill="#111" letter-spacing="0.45">****</text>
<path d="M309.50 510.40 V507.20 H330.75 V510.40" fill="none" stroke="#333" stroke-width="1"/>
<text x="320.30" y="507.90" font-size="9.60" text-anchor="middle" font-weight="bold" fill="#111" letter-spacing="0.45">****</text>
<text x="352.00" y="521.20" font-size="9.60" text-anchor="middle" font-weight="normal" fill="#111" textLength="9.2" lengthAdjust="spacingAndGlyphs" stroke="#111" stroke-width="0.2">ns</text>
<text x="373.17" y="523.90" font-size="9.60" text-anchor="middle" font-weight="bold" fill="#111" letter-spacing="0.45">****</text>
<path d="M350.30 510.40 V507.20 H371.55 V510.40" fill="none" stroke="#333" stroke-width="1"/>
<text x="361.10" y="507.90" font-size="9.60" text-anchor="middle" font-weight="bold" fill="#111" letter-spacing="0.45">**</text>
<text x="394.12" y="523.90" font-size="9.60" text-anchor="middle" font-weight="bold" fill="#111" letter-spacing="0.45">***</text>
<text x="415.07" y="523.90" font-size="9.60" text-anchor="middle" font-weight="bold" fill="#111" letter-spacing="0.45">****</text>
<path d="M393.80 510.40 V507.20 H415.05 V510.40" fill="none" stroke="#333" stroke-width="1"/>
<text x="404.60" y="507.90" font-size="9.60" text-anchor="middle" font-weight="bold" fill="#111" letter-spacing="0.45">****</text>
<text x="436.02" y="523.90" font-size="9.60" text-anchor="middle" font-weight="bold" fill="#111" letter-spacing="0.45">*</text>
<text x="456.97" y="523.90" font-size="9.60" text-anchor="middle" font-weight="bold" fill="#111" letter-spacing="0.45">****</text>
<path d="M436.00 510.40 V507.20 H457.25 V510.40" fill="none" stroke="#333" stroke-width="1"/>
<text x="446.80" y="507.90" font-size="9.60" text-anchor="middle" font-weight="bold" fill="#111" letter-spacing="0.45">**</text>
<text x="477.92" y="523.90" font-size="9.60" text-anchor="middle" font-weight="bold" fill="#111" letter-spacing="0.45">**</text>
<text x="498.87" y="523.90" font-size="9.60" text-anchor="middle" font-weight="bold" fill="#111" letter-spacing="0.45">****</text>
<path d="M477.30 510.40 V507.20 H498.55 V510.40" fill="none" stroke="#333" stroke-width="1"/>
<text x="487.88" y="504.70" font-size="9.60" text-anchor="middle" font-weight="normal" fill="#111" textLength="9.2" lengthAdjust="spacingAndGlyphs" stroke="#111" stroke-width="0.2">ns</text>
<text transform="translate(75.10 212.30) rotate(-57.5)" font-size="9.1" text-anchor="end" fill="#151515" stroke="#151515" stroke-width="0.22">PBMC (<tspan font-style="italic">n</tspan> = 33)</text>
<text transform="translate(109.60 212.30) rotate(-57.5)" font-size="9.1" text-anchor="end" fill="#151515" stroke="#151515" stroke-width="0.22">PBMC (<tspan font-style="italic">n</tspan> = 38)</text>
<text transform="translate(129.56 212.21) rotate(-57.5)" font-size="9.1" text-anchor="end" fill="#151515" stroke="#151515" stroke-width="0.22">TIL (<tspan font-style="italic">n</tspan> = 24)</text>
<text transform="translate(151.02 212.12) rotate(-57.5)" font-size="9.1" text-anchor="end" fill="#151515" stroke="#151515" stroke-width="0.22">PBMC (<tspan font-style="italic">n</tspan> = 26)</text>
<text transform="translate(170.97 212.03) rotate(-57.5)" font-size="9.1" text-anchor="end" fill="#151515" stroke="#151515" stroke-width="0.22">TIL (<tspan font-style="italic">n</tspan> = 26)</text>
<text transform="translate(192.23 211.94) rotate(-57.5)" font-size="9.1" text-anchor="end" fill="#151515" stroke="#151515" stroke-width="0.22">PBMC (<tspan font-style="italic">n</tspan> = 11)</text>
<text transform="translate(210.89 211.85) rotate(-57.5)" font-size="9.1" text-anchor="end" fill="#151515" stroke="#151515" stroke-width="0.22">TIL (<tspan font-style="italic">n</tspan> = 6)</text>
<text transform="translate(234.15 211.76) rotate(-57.5)" font-size="9.1" text-anchor="end" fill="#151515" stroke="#151515" stroke-width="0.22">PBMC (<tspan font-style="italic">n</tspan> = 16)</text>
<text transform="translate(252.11 211.67) rotate(-57.5)" font-size="9.1" text-anchor="end" fill="#151515" stroke="#151515" stroke-width="0.22">TIL (<tspan font-style="italic">n</tspan> = 11)</text>
<text transform="translate(276.26 211.58) rotate(-57.5)" font-size="9.1" text-anchor="end" fill="#151515" stroke="#151515" stroke-width="0.22">PBMC (<tspan font-style="italic">n</tspan> = 4)</text>
<text transform="translate(295.72 211.49) rotate(-57.5)" font-size="9.1" text-anchor="end" fill="#151515" stroke="#151515" stroke-width="0.22">TIL (<tspan font-style="italic">n</tspan> = 4)</text>
<text transform="translate(318.18 211.41) rotate(-57.5)" font-size="9.1" text-anchor="end" fill="#151515" stroke="#151515" stroke-width="0.22">PBMC (<tspan font-style="italic">n</tspan> = 7)</text>
<text transform="translate(336.64 211.32) rotate(-57.5)" font-size="9.1" text-anchor="end" fill="#151515" stroke="#151515" stroke-width="0.22">TIL (<tspan font-style="italic">n</tspan> = 5)</text>
<text transform="translate(359.59 211.23) rotate(-57.5)" font-size="9.1" text-anchor="end" fill="#151515" stroke="#151515" stroke-width="0.22">PBMC (<tspan font-style="italic">n</tspan> = 6)</text>
<text transform="translate(378.55 211.14) rotate(-57.5)" font-size="9.1" text-anchor="end" fill="#151515" stroke="#151515" stroke-width="0.22">TIL (<tspan font-style="italic">n</tspan> = 5)</text>
<text transform="translate(401.51 211.05) rotate(-57.5)" font-size="9.1" text-anchor="end" fill="#151515" stroke="#151515" stroke-width="0.22">PBMC (<tspan font-style="italic">n</tspan> = 27)</text>
<text transform="translate(419.97 210.96) rotate(-57.5)" font-size="9.1" text-anchor="end" fill="#151515" stroke="#151515" stroke-width="0.22">TIL (<tspan font-style="italic">n</tspan> = 26)</text>
<text transform="translate(443.93 210.87) rotate(-57.5)" font-size="9.1" text-anchor="end" fill="#151515" stroke="#151515" stroke-width="0.22">PBMC (<tspan font-style="italic">n</tspan> = 40)</text>
<text transform="translate(463.38 210.78) rotate(-57.5)" font-size="9.1" text-anchor="end" fill="#151515" stroke="#151515" stroke-width="0.22">TIL (<tspan font-style="italic">n</tspan> = 19)</text>
<text transform="translate(484.34 210.69) rotate(-57.5)" font-size="9.1" text-anchor="end" fill="#151515" stroke="#151515" stroke-width="0.22">PBMC (<tspan font-style="italic">n</tspan> = 30)</text>
<text transform="translate(504.30 210.60) rotate(-57.5)" font-size="9.1" text-anchor="end" fill="#151515" stroke="#151515" stroke-width="0.22">TIL (<tspan font-style="italic">n</tspan> = 13)</text>
<line x1="75.40" y1="266.70" x2="362.50" y2="266.70" stroke="#1c1c1c" stroke-width="1.30"/>
<line x1="370.00" y1="266.70" x2="445.75" y2="266.70" stroke="#1c1c1c" stroke-width="1.30"/>
<line x1="453.75" y1="266.70" x2="502.60" y2="266.70" stroke="#1c1c1c" stroke-width="1.30"/>
<text x="225.00" y="277.20" font-size="9.50" text-anchor="middle" font-weight="normal" fill="#1c1c1c"  stroke="#1c1c1c" stroke-width="0.25">Local</text>
<text x="226.00" y="288.00" font-size="9.50" text-anchor="middle" font-weight="normal" fill="#1c1c1c"  stroke="#1c1c1c" stroke-width="0.25">BAPC increase</text>
<text x="404.10" y="277.20" font-size="9.50" text-anchor="middle" font-weight="normal" fill="#1c1c1c"  stroke="#1c1c1c" stroke-width="0.25">Systemic</text>
<text x="403.80" y="288.00" font-size="9.50" text-anchor="middle" font-weight="normal" fill="#1c1c1c"  stroke="#1c1c1c" stroke-width="0.25">BAPC increase</text>
<text x="482.20" y="277.20" font-size="9.50" text-anchor="middle" font-weight="normal" fill="#1c1c1c"  stroke="#1c1c1c" stroke-width="0.25">No</text>
<text x="481.80" y="288.00" font-size="9.50" text-anchor="middle" font-weight="normal" fill="#1c1c1c"  stroke="#1c1c1c" stroke-width="0.25">BAPC increase</text>
</svg>
</body>
</html>
